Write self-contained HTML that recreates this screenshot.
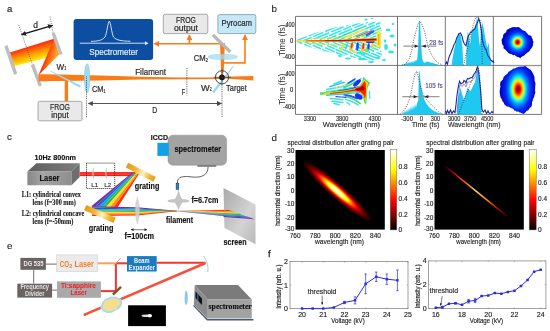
<!DOCTYPE html><html><head><meta charset="utf-8"><style>html,body{margin:0;padding:0;background:#fff;overflow:hidden}svg{display:block;filter:blur(0.3px)}</style></head><body><svg width="550" height="331" viewBox="0 0 550 331"><defs>
<linearGradient id="fan" gradientUnits="userSpaceOnUse" x1="31" y1="46" x2="35" y2="60">
<stop offset="0" stop-color="#ff2a10"/><stop offset="0.45" stop-color="#ff8a00"/><stop offset="1" stop-color="#ffe600"/></linearGradient>
<linearGradient id="tri" gradientUnits="userSpaceOnUse" x1="45" y1="57" x2="54" y2="60">
<stop offset="0" stop-color="#ff2a10"/><stop offset="0.5" stop-color="#ff6a10"/><stop offset="1" stop-color="#ffa020"/></linearGradient>
<marker id="ah" viewBox="0 0 10 10" refX="9" refY="5" markerWidth="4" markerHeight="4" orient="auto-start-reverse"><path d="M0,0 L10,5 L0,10 z" fill="#222"/></marker>
<marker id="ahg" viewBox="0 0 10 10" refX="9" refY="5" markerWidth="5" markerHeight="5" orient="auto-start-reverse"><path d="M0,0 L10,5 L0,10 z" fill="#444"/></marker>
<marker id="aho" viewBox="0 0 10 10" refX="8" refY="5" markerWidth="3.6" markerHeight="3.6" orient="auto-start-reverse"><path d="M0,0 L10,5 L0,10 z" fill="#fb7c15"/></marker>
</defs>
<text x="7" y="12" font-size="9.5" font-family='"Liberation Sans", sans-serif' font-weight="normal" fill="#2e2e2e" text-anchor="start" stroke="#2e2e2e" stroke-width="0.22">a</text>
<polygon points="9.80,52.50 54.00,38.80 59.00,54.50 13.80,66.30" fill="url(#fan)" />
<polygon points="54.00,38.80 59.00,54.50 38.30,75.50" fill="url(#tri)" />
<line x1="18.7" y1="25" x2="32.4" y2="64.3" stroke="#555" stroke-width="0.8" stroke-dasharray="1,1.2"/>
<line x1="50" y1="16.5" x2="53.1" y2="32.9" stroke="#555" stroke-width="0.8" stroke-dasharray="1,1.2"/>
<line x1="5.9" y1="45.6" x2="15.7" y2="74.2" stroke="#bdbdbd" stroke-width="3.4" />
<line x1="53.1" y1="32.9" x2="61" y2="54.5" stroke="#bdbdbd" stroke-width="3.4" />
<line x1="32.4" y1="64.3" x2="40.3" y2="86" stroke="#bdbdbd" stroke-width="3.4" />
<line x1="21.5" y1="34.6" x2="52.6" y2="25.3" stroke="#111" stroke-width="1.3" marker-start="url(#ah)" marker-end="url(#ah)"/>
<text x="35.5" y="27.5" font-size="8.5" font-family='"Liberation Sans", sans-serif' font-weight="normal" fill="#2e2e2e" text-anchor="middle" stroke="#2e2e2e" stroke-width="0.22">d</text>
<polygon points="38.50,74.20 60.00,74.60 100.00,75.60 140.00,76.70 180.00,77.40 222.00,77.60 222.00,78.90 180.00,79.20 140.00,79.60 100.00,80.40 60.00,81.10 38.50,81.30" fill="#fb7c15" />
<rect x="64.7" y="80" width="3.4" height="21.5" fill="#fb7c15"/>
<polygon points="50.00,70.50 50.00,71.30 80.00,87.80 81.00,85.60" fill="#9ad9f2" />
<text x="56.5" y="69.8" font-size="8.3" font-family='"Liberation Sans", sans-serif' font-weight="normal" fill="#2e2e2e" text-anchor="start" textLength="7.7" lengthAdjust="spacingAndGlyphs" stroke="#2e2e2e" stroke-width="0.22">W</text>
<text x="64.2" y="70.4" font-size="5" font-family='"Liberation Sans", sans-serif' font-weight="normal" fill="#2e2e2e" text-anchor="start" textLength="2" lengthAdjust="spacingAndGlyphs" stroke="#2e2e2e" stroke-width="0.22">1</text>
<ellipse cx="87.1" cy="78.2" rx="2.7" ry="14.5" fill="#a3dcf4" stroke="#7ccbee" stroke-width="0.6"/>
<line x1="86.5" y1="76.4" x2="86.5" y2="118" stroke="#333" stroke-width="0.8" stroke-dasharray="0.9,0.9"/>
<text x="92" y="92.2" font-size="8.3" font-family='"Liberation Sans", sans-serif' font-weight="normal" fill="#2e2e2e" text-anchor="start" textLength="11.5" lengthAdjust="spacingAndGlyphs" stroke="#2e2e2e" stroke-width="0.22">CM</text>
<text x="103.5" y="92.8" font-size="5" font-family='"Liberation Sans", sans-serif' font-weight="normal" fill="#2e2e2e" text-anchor="start" textLength="2" lengthAdjust="spacingAndGlyphs" stroke="#2e2e2e" stroke-width="0.22">1</text>
<rect x="38" y="101.3" width="44" height="19.5" rx="1.8" fill="#e9e9e9" stroke="#8a8a8a" stroke-width="0.7"/>
<text x="60" y="110.3" font-size="8.4" font-family='"Liberation Sans", sans-serif' font-weight="normal" fill="#2e2e2e" text-anchor="middle" textLength="19.8" lengthAdjust="spacingAndGlyphs" stroke="#2e2e2e" stroke-width="0.22">FROG</text>
<text x="60" y="117.9" font-size="8.4" font-family='"Liberation Sans", sans-serif' font-weight="normal" fill="#2e2e2e" text-anchor="middle" textLength="17.5" lengthAdjust="spacingAndGlyphs" stroke="#2e2e2e" stroke-width="0.22">input</text>
<line x1="88.3" y1="103.5" x2="221.5" y2="103.5" stroke="#555" stroke-width="1" marker-start="url(#ahg)" marker-end="url(#ahg)"/>
<text x="152.2" y="112.5" font-size="8.4" font-family='"Liberation Sans", sans-serif' font-weight="normal" fill="#2e2e2e" text-anchor="start" textLength="5" lengthAdjust="spacingAndGlyphs" stroke="#2e2e2e" stroke-width="0.22">D</text>
<text x="149.8" y="112.5" font-size="8" font-family='"Liberation Sans", sans-serif' font-weight="normal" fill="#222" text-anchor="start"  stroke="#222" stroke-width="0.15"></text>
<rect x="73.6" y="19" width="79.5" height="41" rx="3" fill="#0b4ea2"/>
<line x1="79.8" y1="43.2" x2="146.5" y2="43.2" stroke="#e8eef8" stroke-width="0.9" />
<path d="M145,41.2 L148.5,43.2 L145,45.2 z" fill="#e8eef8" stroke="none" stroke-width="1" />
<path d="M91,41.4 C98,41.2 102,40.5 105,37 C107,33 107.8,22 109.3,21.2 C110.8,22 111.5,33 113.5,37 C116.5,40.5 122,41 130.5,41.3" fill="none" stroke="#e8eef8" stroke-width="0.9" />
<text x="113.6" y="54.5" font-size="8.8" font-family='"Liberation Sans", sans-serif' font-weight="normal" fill="#e8eef8" text-anchor="middle" textLength="48.5" lengthAdjust="spacingAndGlyphs" stroke="#e8eef8" stroke-width="0.2">Spectrometer</text>
<rect x="163.3" y="14.3" width="44.5" height="19.3" rx="1.8" fill="#e9e9e9" stroke="#8a8a8a" stroke-width="0.7"/>
<text x="176" y="23" font-size="8.4" font-family='"Liberation Sans", sans-serif' font-weight="normal" fill="#2e2e2e" text-anchor="start" textLength="19.8" lengthAdjust="spacingAndGlyphs" stroke="#2e2e2e" stroke-width="0.22">FROG</text>
<text x="174" y="30.6" font-size="8.4" font-family='"Liberation Sans", sans-serif' font-weight="normal" fill="#2e2e2e" text-anchor="start" textLength="24" lengthAdjust="spacingAndGlyphs" stroke="#2e2e2e" stroke-width="0.22">output</text>
<rect x="217.9" y="14.6" width="37.9" height="19" rx="1.8" fill="#c5e8f8" stroke="#6f8f9f" stroke-width="0.7"/>
<text x="221.5" y="25.7" font-size="8.2" font-family='"Liberation Sans", sans-serif' font-weight="normal" fill="#2e2e2e" text-anchor="start" textLength="30.5" lengthAdjust="spacingAndGlyphs" stroke="#2e2e2e" stroke-width="0.22">Pyrocam</text>
<line x1="220.5" y1="43.8" x2="154.5" y2="43.8" stroke="#fb7c15" stroke-width="1.6" marker-end="url(#aho)"/>
<line x1="189.4" y1="43.8" x2="189.4" y2="35.3" stroke="#fb7c15" stroke-width="1.6" marker-end="url(#aho)"/>
<line x1="222" y1="62.9" x2="245" y2="62.9" stroke="#fb7c15" stroke-width="1.6" />
<line x1="245" y1="63.7" x2="245" y2="35.3" stroke="#fb7c15" stroke-width="1.6" marker-end="url(#aho)"/>
<polygon points="220.00,43.00 224.90,43.00 223.80,70.00 222.60,77.30 221.60,77.30 221.10,70.00" fill="#fb7c15" />
<line x1="212.8" y1="34.8" x2="230.4" y2="52" stroke="#b8b8b8" stroke-width="3.2" />
<ellipse cx="222.7" cy="56.9" rx="14.7" ry="2.7" fill="#a3dcf4" stroke="#7ccbee" stroke-width="0.6" opacity="0.75"/>
<text x="193.8" y="61.3" font-size="8.3" font-family='"Liberation Sans", sans-serif' font-weight="normal" fill="#2e2e2e" text-anchor="start" textLength="12" lengthAdjust="spacingAndGlyphs" stroke="#2e2e2e" stroke-width="0.22">CM</text>
<text x="205.8" y="61.8" font-size="5" font-family='"Liberation Sans", sans-serif' font-weight="normal" fill="#2e2e2e" text-anchor="start" textLength="2.2" lengthAdjust="spacingAndGlyphs" stroke="#2e2e2e" stroke-width="0.22">2</text>
<polygon points="222.00,76.80 253.40,76.00 253.40,80.50 222.00,78.20" fill="#fb7c15" />
<polygon points="212.00,91.80 214.20,93.20 234.00,66.20 233.40,65.60" fill="#9ad9f2" />
<circle cx="222" cy="77.3" r="6.6" fill="none" stroke="#333" stroke-width="0.9"/>
<circle cx="222" cy="77.3" r="2.9" fill="#111"/>
<line x1="213.5" y1="77.3" x2="231" y2="77.3" stroke="#333" stroke-width="0.7" />
<line x1="222" y1="69.1" x2="222" y2="85.5" stroke="#333" stroke-width="0.7" />
<line x1="222" y1="85.5" x2="222" y2="117.5" stroke="#333" stroke-width="0.8" stroke-dasharray="0.9,0.9"/>
<text x="201" y="90.6" font-size="8.3" font-family='"Liberation Sans", sans-serif' font-weight="normal" fill="#2e2e2e" text-anchor="start" textLength="8.7" lengthAdjust="spacingAndGlyphs" stroke="#2e2e2e" stroke-width="0.22">W</text>
<text x="209.7" y="91" font-size="5" font-family='"Liberation Sans", sans-serif' font-weight="normal" fill="#2e2e2e" text-anchor="start" textLength="2" lengthAdjust="spacingAndGlyphs" stroke="#2e2e2e" stroke-width="0.22">2</text>
<text x="226.1" y="90.6" font-size="8.3" font-family='"Liberation Sans", sans-serif' font-weight="normal" fill="#2e2e2e" text-anchor="start" textLength="20.7" lengthAdjust="spacingAndGlyphs" stroke="#2e2e2e" stroke-width="0.22">Target</text>
<line x1="186.9" y1="68" x2="186.9" y2="95.3" stroke="#333" stroke-width="0.8" stroke-dasharray="0.9,0.9"/>
<text x="181.8" y="94.7" font-size="8.3" font-family='"Liberation Sans", sans-serif' font-weight="normal" fill="#2e2e2e" text-anchor="start" textLength="3.5" lengthAdjust="spacingAndGlyphs" stroke="#2e2e2e" stroke-width="0.22">F</text>
<text x="135.2" y="74.5" font-size="8.2" font-family='"Liberation Sans", sans-serif' font-weight="normal" fill="#2e2e2e" text-anchor="start" textLength="30.8" lengthAdjust="spacingAndGlyphs" stroke="#2e2e2e" stroke-width="0.22">Filament</text>
<text x="271.6" y="11.5" font-size="9.8" font-family='"Liberation Sans", sans-serif' font-weight="normal" fill="#222" text-anchor="start"  stroke="#222" stroke-width="0.1">b</text>
<line x1="295.5" y1="16.4" x2="541.6" y2="16.4" stroke="#555" stroke-width="0.8" />
<line x1="295.5" y1="65.4" x2="541.6" y2="65.4" stroke="#555" stroke-width="0.8" />
<line x1="295.5" y1="114.4" x2="541.6" y2="114.4" stroke="#555" stroke-width="0.8" />
<line x1="295.5" y1="16.4" x2="295.5" y2="114.4" stroke="#555" stroke-width="0.8" />
<line x1="397.5" y1="16.4" x2="397.5" y2="114.4" stroke="#555" stroke-width="0.8" />
<line x1="445.3" y1="16.4" x2="445.3" y2="114.4" stroke="#555" stroke-width="0.8" />
<line x1="493.3" y1="16.4" x2="493.3" y2="114.4" stroke="#555" stroke-width="0.8" />
<line x1="541.6" y1="16.4" x2="541.6" y2="114.4" stroke="#555" stroke-width="0.8" />
<text x="294.7" y="27.3" font-size="6.3" font-family='"Liberation Sans", sans-serif' font-weight="normal" fill="#2a2a2a" text-anchor="end" textLength="9.3" lengthAdjust="spacingAndGlyphs"  stroke="#2a2a2a" stroke-width="0.15">400</text>
<text x="293.3" y="43.3" font-size="6.3" font-family='"Liberation Sans", sans-serif' font-weight="normal" fill="#2a2a2a" text-anchor="end" textLength="3.3" lengthAdjust="spacingAndGlyphs"  stroke="#2a2a2a" stroke-width="0.15">0</text>
<text x="294.7" y="59.3" font-size="6.3" font-family='"Liberation Sans", sans-serif' font-weight="normal" fill="#2a2a2a" text-anchor="end" textLength="11.9" lengthAdjust="spacingAndGlyphs"  stroke="#2a2a2a" stroke-width="0.15">-400</text>
<text x="294.7" y="76.1" font-size="6.3" font-family='"Liberation Sans", sans-serif' font-weight="normal" fill="#2a2a2a" text-anchor="end" textLength="9.3" lengthAdjust="spacingAndGlyphs"  stroke="#2a2a2a" stroke-width="0.15">400</text>
<text x="293.3" y="92.3" font-size="6.3" font-family='"Liberation Sans", sans-serif' font-weight="normal" fill="#2a2a2a" text-anchor="end" textLength="3.3" lengthAdjust="spacingAndGlyphs"  stroke="#2a2a2a" stroke-width="0.15">0</text>
<text x="294.7" y="108.5" font-size="6.3" font-family='"Liberation Sans", sans-serif' font-weight="normal" fill="#2a2a2a" text-anchor="end" textLength="11.9" lengthAdjust="spacingAndGlyphs"  stroke="#2a2a2a" stroke-width="0.15">-400</text>
<text x="310" y="120.9" font-size="6.6" font-family='"Liberation Sans", sans-serif' font-weight="normal" fill="#2a2a2a" text-anchor="middle" textLength="12.4" lengthAdjust="spacingAndGlyphs"  stroke="#2a2a2a" stroke-width="0.15">3300</text>
<text x="342.2" y="120.9" font-size="6.6" font-family='"Liberation Sans", sans-serif' font-weight="normal" fill="#2a2a2a" text-anchor="middle" textLength="12.4" lengthAdjust="spacingAndGlyphs"  stroke="#2a2a2a" stroke-width="0.15">3800</text>
<text x="374.7" y="120.9" font-size="6.6" font-family='"Liberation Sans", sans-serif' font-weight="normal" fill="#2a2a2a" text-anchor="middle" textLength="12.4" lengthAdjust="spacingAndGlyphs"  stroke="#2a2a2a" stroke-width="0.15">4300</text>
<text x="407" y="120.9" font-size="6.6" font-family='"Liberation Sans", sans-serif' font-weight="normal" fill="#2a2a2a" text-anchor="middle" textLength="11.9" lengthAdjust="spacingAndGlyphs"  stroke="#2a2a2a" stroke-width="0.15">-300</text>
<text x="421.3" y="120.9" font-size="6.6" font-family='"Liberation Sans", sans-serif' font-weight="normal" fill="#2a2a2a" text-anchor="middle" textLength="3.3" lengthAdjust="spacingAndGlyphs"  stroke="#2a2a2a" stroke-width="0.15">0</text>
<text x="435.5" y="120.9" font-size="6.6" font-family='"Liberation Sans", sans-serif' font-weight="normal" fill="#2a2a2a" text-anchor="middle" textLength="9.3" lengthAdjust="spacingAndGlyphs"  stroke="#2a2a2a" stroke-width="0.15">300</text>
<text x="454.2" y="120.9" font-size="6.6" font-family='"Liberation Sans", sans-serif' font-weight="normal" fill="#2a2a2a" text-anchor="middle" textLength="12.4" lengthAdjust="spacingAndGlyphs"  stroke="#2a2a2a" stroke-width="0.15">3000</text>
<text x="470.1" y="120.9" font-size="6.6" font-family='"Liberation Sans", sans-serif' font-weight="normal" fill="#2a2a2a" text-anchor="middle" textLength="12.4" lengthAdjust="spacingAndGlyphs"  stroke="#2a2a2a" stroke-width="0.15">3750</text>
<text x="487.2" y="120.9" font-size="6.6" font-family='"Liberation Sans", sans-serif' font-weight="normal" fill="#2a2a2a" text-anchor="middle" textLength="12.4" lengthAdjust="spacingAndGlyphs"  stroke="#2a2a2a" stroke-width="0.15">4500</text>
<text x="351.5" y="127.2" font-size="7.8" font-family='"Liberation Sans", sans-serif' font-weight="normal" fill="#2a2a2a" text-anchor="middle" textLength="57.3" lengthAdjust="spacingAndGlyphs"  stroke="#2a2a2a" stroke-width="0.15">Wavelength (nm)</text>
<text x="425.6" y="127.2" font-size="7.8" font-family='"Liberation Sans", sans-serif' font-weight="normal" fill="#2a2a2a" text-anchor="middle" textLength="27.7" lengthAdjust="spacingAndGlyphs"  stroke="#2a2a2a" stroke-width="0.15">Time (fs)</text>
<text x="474.2" y="127.2" font-size="7.8" font-family='"Liberation Sans", sans-serif' font-weight="normal" fill="#2a2a2a" text-anchor="middle" textLength="52.5" lengthAdjust="spacingAndGlyphs"  stroke="#2a2a2a" stroke-width="0.15">Wavelength (nm)</text>
<text transform="translate(284.6,40.2) rotate(-90)" font-size="8.5" font-family='"Liberation Sans", sans-serif' fill="#2a2a2a" text-anchor="middle" textLength="31" lengthAdjust="spacingAndGlyphs">Time (fs)</text>
<text transform="translate(284.6,89.2) rotate(-90)" font-size="8.5" font-family='"Liberation Sans", sans-serif' fill="#2a2a2a" text-anchor="middle" textLength="31" lengthAdjust="spacingAndGlyphs">Time (fs)</text>
<clipPath id="cb1"><rect x="296" y="17" width="101" height="48"/></clipPath>
<clipPath id="cb2"><rect x="296" y="66" width="101" height="48"/></clipPath>
<clipPath id="fanU"><polygon points="297,39.5 315,33 335,27.5 360,23 380,21 382,30 380,39.4 297,40.4"/></clipPath>
<clipPath id="fanD"><polygon points="297,41.4 297,43.5 320,50 345,56 372,61 382,56 380,41 "/></clipPath>
<g clip-path="url(#cb1)">
<g clip-path="url(#fanU)">
<line x1="262" y1="41" x2="307" y2="22" stroke="#2fe6e6" stroke-width="1.5" stroke-dasharray="15.4,1.8,15.2,1.7" stroke-dashoffset="7.6"/>
<line x1="268.8" y1="41" x2="313.8" y2="22" stroke="#2fe6e6" stroke-width="1.5" stroke-dasharray="17.0,1.3,11.1,1.9" stroke-dashoffset="11.9"/>
<line x1="275.6" y1="41" x2="320.6" y2="22" stroke="#2fe6e6" stroke-width="1.5" stroke-dasharray="11.1,1.5,6.9,2.2" stroke-dashoffset="10.4"/>
<line x1="282.40000000000003" y1="41" x2="327.40000000000003" y2="22" stroke="#2fe6e6" stroke-width="1.5" stroke-dasharray="10.5,2.5,15.6,2.0" stroke-dashoffset="9.2"/>
<line x1="289.20000000000005" y1="41" x2="334.20000000000005" y2="22" stroke="#2fe6e6" stroke-width="1.5" stroke-dasharray="11.9,1.0,11.3,1.1" stroke-dashoffset="2.9"/>
<line x1="296.00000000000006" y1="41" x2="341.00000000000006" y2="22" stroke="#2fe6e6" stroke-width="1.5" stroke-dasharray="12.9,1.0,10.6,1.7" stroke-dashoffset="12.6"/>
<line x1="302.80000000000007" y1="41" x2="347.80000000000007" y2="22" stroke="#2fe6e6" stroke-width="1.5" stroke-dasharray="16.2,2.0,11.0,2.0" stroke-dashoffset="6.9"/>
<line x1="309.6000000000001" y1="41" x2="354.6000000000001" y2="22" stroke="#2fe6e6" stroke-width="1.5" stroke-dasharray="13.3,2.5,16.0,2.3" stroke-dashoffset="10.6"/>
<line x1="316.4000000000001" y1="41" x2="361.4000000000001" y2="22" stroke="#2fe6e6" stroke-width="1.5" stroke-dasharray="13.8,1.3,8.9,1.1" stroke-dashoffset="11.5"/>
<line x1="323.2000000000001" y1="41" x2="368.2000000000001" y2="22" stroke="#2fe6e6" stroke-width="1.5" stroke-dasharray="14.8,2.3,9.9,2.4" stroke-dashoffset="12.7"/>
<line x1="330.0000000000001" y1="41" x2="375.0000000000001" y2="22" stroke="#2fe6e6" stroke-width="1.5" stroke-dasharray="10.0,1.3,15.1,1.7" stroke-dashoffset="14.7"/>
<line x1="336.8000000000001" y1="41" x2="381.8000000000001" y2="22" stroke="#2fe6e6" stroke-width="1.5" stroke-dasharray="14.8,1.1,12.3,2.2" stroke-dashoffset="4.0"/>
<line x1="343.60000000000014" y1="41" x2="388.60000000000014" y2="22" stroke="#2fe6e6" stroke-width="1.5" stroke-dasharray="11.0,1.5,15.6,2.1" stroke-dashoffset="1.8"/>
<line x1="350.40000000000015" y1="41" x2="395.40000000000015" y2="22" stroke="#2fe6e6" stroke-width="1.5" stroke-dasharray="13.0,1.2,6.6,2.2" stroke-dashoffset="2.7"/>
<line x1="357.20000000000016" y1="41" x2="402.20000000000016" y2="22" stroke="#2fe6e6" stroke-width="1.5" stroke-dasharray="16.7,1.7,7.9,2.1" stroke-dashoffset="2.0"/>
<line x1="364.00000000000017" y1="41" x2="409.00000000000017" y2="22" stroke="#2fe6e6" stroke-width="1.5" stroke-dasharray="17.7,1.2,10.2,1.3" stroke-dashoffset="4.0"/>
<line x1="370.8000000000002" y1="41" x2="415.8000000000002" y2="22" stroke="#2fe6e6" stroke-width="1.5" stroke-dasharray="21.7,2.2,9.0,2.3" stroke-dashoffset="3.2"/>
<line x1="377.6000000000002" y1="41" x2="422.6000000000002" y2="22" stroke="#2fe6e6" stroke-width="1.5" stroke-dasharray="14.7,2.3,12.4,1.2" stroke-dashoffset="14.8"/>
<line x1="384.4000000000002" y1="41" x2="429.4000000000002" y2="22" stroke="#2fe6e6" stroke-width="1.5" stroke-dasharray="12.6,1.4,13.7,1.5" stroke-dashoffset="4.4"/>
</g>
<g clip-path="url(#fanD)">
<line x1="262" y1="40.8" x2="310" y2="62" stroke="#2fe6e6" stroke-width="1.5" stroke-dasharray="10.9,1.1,11.8,1.4" stroke-dashoffset="9.0"/>
<line x1="268.8" y1="40.8" x2="316.8" y2="62" stroke="#2fe6e6" stroke-width="1.5" stroke-dasharray="14.5,1.7,15.6,1.7" stroke-dashoffset="8.6"/>
<line x1="275.6" y1="40.8" x2="323.6" y2="62" stroke="#2fe6e6" stroke-width="1.5" stroke-dasharray="20.4,1.3,7.5,2.4" stroke-dashoffset="12.3"/>
<line x1="282.40000000000003" y1="40.8" x2="330.40000000000003" y2="62" stroke="#2fe6e6" stroke-width="1.5" stroke-dasharray="13.0,1.3,13.4,2.4" stroke-dashoffset="2.9"/>
<line x1="289.20000000000005" y1="40.8" x2="337.20000000000005" y2="62" stroke="#2fe6e6" stroke-width="1.5" stroke-dasharray="21.4,2.3,12.0,1.6" stroke-dashoffset="1.6"/>
<line x1="296.00000000000006" y1="40.8" x2="344.00000000000006" y2="62" stroke="#2fe6e6" stroke-width="1.5" stroke-dasharray="10.5,2.4,8.4,2.1" stroke-dashoffset="3.9"/>
<line x1="302.80000000000007" y1="40.8" x2="350.80000000000007" y2="62" stroke="#2fe6e6" stroke-width="1.5" stroke-dasharray="19.9,1.9,8.9,1.3" stroke-dashoffset="10.8"/>
<line x1="309.6000000000001" y1="40.8" x2="357.6000000000001" y2="62" stroke="#2fe6e6" stroke-width="1.5" stroke-dasharray="10.8,1.3,11.6,2.3" stroke-dashoffset="9.2"/>
<line x1="316.4000000000001" y1="40.8" x2="364.4000000000001" y2="62" stroke="#2fe6e6" stroke-width="1.5" stroke-dasharray="13.4,2.4,8.0,1.0" stroke-dashoffset="4.0"/>
<line x1="323.2000000000001" y1="40.8" x2="371.2000000000001" y2="62" stroke="#2fe6e6" stroke-width="1.5" stroke-dasharray="15.3,1.1,7.8,1.6" stroke-dashoffset="8.6"/>
<line x1="330.0000000000001" y1="40.8" x2="378.0000000000001" y2="62" stroke="#2fe6e6" stroke-width="1.5" stroke-dasharray="11.6,1.5,14.9,2.5" stroke-dashoffset="9.9"/>
<line x1="336.8000000000001" y1="40.8" x2="384.8000000000001" y2="62" stroke="#2fe6e6" stroke-width="1.5" stroke-dasharray="18.3,1.9,7.4,1.1" stroke-dashoffset="0.3"/>
<line x1="343.60000000000014" y1="40.8" x2="391.60000000000014" y2="62" stroke="#2fe6e6" stroke-width="1.5" stroke-dasharray="20.9,2.1,15.6,1.0" stroke-dashoffset="9.5"/>
<line x1="350.40000000000015" y1="40.8" x2="398.40000000000015" y2="62" stroke="#2fe6e6" stroke-width="1.5" stroke-dasharray="15.8,2.1,9.2,2.5" stroke-dashoffset="1.1"/>
<line x1="357.20000000000016" y1="40.8" x2="405.20000000000016" y2="62" stroke="#2fe6e6" stroke-width="1.5" stroke-dasharray="16.6,2.1,15.0,2.1" stroke-dashoffset="10.6"/>
<line x1="364.00000000000017" y1="40.8" x2="412.00000000000017" y2="62" stroke="#2fe6e6" stroke-width="1.5" stroke-dasharray="19.5,2.4,9.5,2.0" stroke-dashoffset="13.5"/>
<line x1="370.8000000000002" y1="40.8" x2="418.8000000000002" y2="62" stroke="#2fe6e6" stroke-width="1.5" stroke-dasharray="20.5,1.6,13.9,2.3" stroke-dashoffset="8.6"/>
<line x1="377.6000000000002" y1="40.8" x2="425.6000000000002" y2="62" stroke="#2fe6e6" stroke-width="1.5" stroke-dasharray="17.5,1.6,11.8,1.9" stroke-dashoffset="1.2"/>
<line x1="384.4000000000002" y1="40.8" x2="432.4000000000002" y2="62" stroke="#2fe6e6" stroke-width="1.5" stroke-dasharray="17.7,2.5,14.8,2.1" stroke-dashoffset="5.8"/>
</g>
<line x1="310" y1="38.8" x2="372" y2="35.8" stroke="#e0e040" stroke-width="0.8" />
<line x1="305" y1="43" x2="345" y2="45.5" stroke="#e0e040" stroke-width="0.8" />
<line x1="345" y1="37.5" x2="366" y2="29" stroke="#ffe030" stroke-width="1.4" />
<line x1="356" y1="37" x2="372" y2="30.5" stroke="#ff5a20" stroke-width="1.3" />
<line x1="338" y1="37.8" x2="360" y2="28.5" stroke="#30e0a0" stroke-width="1.2" />
<line x1="366" y1="35.5" x2="374" y2="31" stroke="#2060ff" stroke-width="2.2" />
<ellipse cx="351.5" cy="47" rx="1.6" ry="5" fill="#ffd020" transform="rotate(10 351.5 47)"/>
<ellipse cx="351.8" cy="45.5" rx="0.9" ry="3.2" fill="#ff3020" transform="rotate(10 351.8 45.5)"/>
<ellipse cx="357.5" cy="46.5" rx="1.3" ry="4.2" fill="#2040ff" transform="rotate(5 357.5 46.5)"/>
<ellipse cx="363" cy="47.5" rx="1.7" ry="5" fill="#ffd020" transform="rotate(8 363 47.5)"/>
<ellipse cx="363.3" cy="46" rx="1" ry="3.4" fill="#ff2a20" transform="rotate(8 363.3 46)"/>
<ellipse cx="368.5" cy="47" rx="1.2" ry="3.8" fill="#2040ff" transform="rotate(5 368.5 47)"/>
<ellipse cx="372.5" cy="46" rx="1.3" ry="3.6" fill="#ffd020" transform="rotate(5 372.5 46)"/>
<ellipse cx="342" cy="47.5" rx="1.2" ry="4" fill="#e8e830" transform="rotate(20 342 47.5)"/>
<ellipse cx="346.5" cy="46.5" rx="1" ry="3.2" fill="#40d8c0" transform="rotate(20 346.5 46.5)"/>
<ellipse cx="361" cy="53.3" rx="5" ry="1.3" fill="#2fe6e6" transform="rotate(10 361 53.3)"/>
<ellipse cx="366.5" cy="50.3" rx="2.6" ry="1.8" fill="#60f060" transform="rotate(0 366.5 50.3)"/>
<ellipse cx="366.5" cy="50.3" rx="1.3" ry="0.9" fill="#ffb020" transform="rotate(0 366.5 50.3)"/>
<ellipse cx="370" cy="41.8" rx="4.5" ry="1.3" fill="#1030ff" transform="rotate(0 370 41.8)"/>
<ellipse cx="355" cy="52" rx="2" ry="1.2" fill="#ffe040" transform="rotate(0 355 52)"/>
<polygon points="296.00,40.40 340.00,39.50 380.00,37.80 380.00,41.20 340.00,42.00 296.00,41.60" fill="#ffd000" />
<polygon points="306.00,40.60 340.00,39.90 380.00,38.30 380.00,40.60 340.00,41.50 306.00,41.30" fill="#ff2a00" />
<polygon points="325.00,40.60 380.00,38.90 380.00,39.90 325.00,41.10" fill="#9a0000" />
<polygon points="376.80,30.30 380.50,30.30 381.20,47.50 376.30,47.50" fill="#f4ee30" />
<line x1="378.7" y1="34" x2="378.7" y2="45" stroke="#ff8a20" stroke-width="1" />
<ellipse cx="388" cy="30" rx="2.5" ry="1.3" fill="#2fe6e6"/>
<ellipse cx="392" cy="36" rx="2.6" ry="1.6" fill="#2fe6e6"/>
<ellipse cx="386" cy="47" rx="1.8" ry="3" fill="#2fe6e6"/>
<ellipse cx="391" cy="52" rx="3" ry="1.4" fill="#2fe6e6"/>
<ellipse cx="385" cy="41" rx="1.2" ry="1.8" fill="#2fe6e6"/>
<ellipse cx="362" cy="59" rx="4" ry="1.2" fill="#2fe6e6"/>
<ellipse cx="371" cy="62" rx="3" ry="1" fill="#2fe6e6"/>
<ellipse cx="384" cy="60" rx="2" ry="1" fill="#2fe6e6"/>
<ellipse cx="348" cy="58.5" rx="3" ry="1" fill="#2fe6e6"/>
<ellipse cx="340" cy="56" rx="2" ry="1" fill="#2fe6e6"/>
<ellipse cx="366" cy="19.5" rx="1.5" ry="1" fill="#2fe6e6"/>
<ellipse cx="372" cy="18.5" rx="1.2" ry="0.8" fill="#2fe6e6"/>
<ellipse cx="393" cy="24" rx="1.5" ry="1" fill="#2fe6e6"/>
<ellipse cx="395" cy="45" rx="1.5" ry="1.5" fill="#2fe6e6"/>
<ellipse cx="378" cy="58" rx="2" ry="1.2" fill="#2fe6e6"/>
</g>
<g clip-path="url(#cb2)">
<path d="M326.7,89.6 Q336,87.4 345.6,85.9" fill="none" stroke="#2fe6e6" stroke-width="1.5" fill="none" stroke-linecap="round"/>
<path d="M329.9,86.6 Q337,84.3 344,82.4" fill="none" stroke="#30b0ff" stroke-width="1.5" fill="none" stroke-linecap="round"/>
<path d="M333.8,84 Q338,82.5 341.6,81" fill="none" stroke="#2fe6e6" stroke-width="1.4" fill="none" stroke-linecap="round"/>
<path d="M335,88 Q341,86.3 347,84.6" fill="none" stroke="#e8e040" stroke-width="1.0" fill="none" stroke-linecap="round"/>
<path d="M338,90.8 Q346,89.2 352,88" fill="none" stroke="#2a50ff" stroke-width="1.6" fill="none" stroke-linecap="round"/>
<path d="M344,87.7 Q351,85 357.4,80.6" fill="none" stroke="#40e060" stroke-width="1.6" fill="none" stroke-linecap="round"/>
<path d="M346,85 Q351,82.5 354.5,80.2" fill="none" stroke="#2fe6e6" stroke-width="1.4" fill="none" stroke-linecap="round"/>
<path d="M348,83.2 Q352,80.8 355,78.8" fill="none" stroke="#2a50ff" stroke-width="1.4" fill="none" stroke-linecap="round"/>
<path d="M358,82 Q359.5,80.5 361,78.5" fill="none" stroke="#2fe6e6" stroke-width="1.3" fill="none" stroke-linecap="round"/>
<path d="M330.2,98.5 Q337,99 342.9,99.8" fill="none" stroke="#50e0a0" stroke-width="1.5" fill="none" stroke-linecap="round"/>
<path d="M332,101.2 Q337,101.8 342.9,102.5" fill="none" stroke="#2fe6e6" stroke-width="1.5" fill="none" stroke-linecap="round"/>
<path d="M333.8,103.5 Q336.5,104 339.3,104.8" fill="none" stroke="#2fe6e6" stroke-width="1.4" fill="none" stroke-linecap="round"/>
<path d="M336,96.6 Q342,96.9 346,97.5" fill="none" stroke="#2a50ff" stroke-width="1.4" fill="none" stroke-linecap="round"/>
<path d="M345.6,96.2 Q354,98.5 360.2,103.5" fill="none" stroke="#40e060" stroke-width="1.6" fill="none" stroke-linecap="round"/>
<path d="M345.6,99.4 Q353,101.5 358.4,104.8" fill="none" stroke="#2fe6e6" stroke-width="1.5" fill="none" stroke-linecap="round"/>
<path d="M347,102.5 Q348.5,103.5 349.5,104.5" fill="none" stroke="#2fe6e6" stroke-width="1.2" fill="none" stroke-linecap="round"/>
<path d="M344,94.6 Q352,95.8 357,98.5" fill="none" stroke="#2a50ff" stroke-width="1.8" fill="none" stroke-linecap="round"/>
<path d="M330,92.6 Q346,90.6 361,86.2" fill="none" stroke="#2a50ff" stroke-width="1.7" fill="none"/>
<path d="M326,91.6 Q343,89.4 352,87.6" fill="none" stroke="#2fe6e6" stroke-width="1.0" fill="none"/>
<path d="M326,95.2 Q346,93.8 360,92.6" fill="none" stroke="#30c8e0" stroke-width="1.4" fill="none"/>
<ellipse cx="358.8" cy="96.4" rx="4.2" ry="2.6" fill="#1a30ff" transform="rotate(30 358.8 96.4)"/>
<ellipse cx="357" cy="83" rx="4.8" ry="2" fill="#1a30ff" transform="rotate(-42 357 83)"/>
<polygon points="320.00,92.40 345.00,90.20 361.00,87.00 361.00,91.00 345.00,93.40 320.00,94.80" fill="#40e050" />
<polygon points="324.00,92.80 345.00,90.70 361.00,87.60 361.00,90.40 345.00,92.80 324.00,94.30" fill="#ffd800" />
<polygon points="330.00,93.00 345.00,91.20 361.00,88.10 361.00,89.90 345.00,92.30 330.00,93.90" fill="#ff2200" />
<polygon points="355.40,87.92 359.70,85.58 362.28,81.80 363.66,76.76 366.15,79.82 370.02,82.79 367.44,88.10 367.10,95.30 366.06,104.48 364.26,102.50 362.71,96.20 359.70,92.78 355.40,91.52" fill="#40e050" />
<polygon points="355.40,88.19 360.13,85.94 362.80,82.52 364.00,78.92 365.89,81.35 368.13,83.24 366.58,88.10 366.49,95.30 365.55,102.05 363.31,95.75 360.13,92.33 355.40,91.25" fill="#ffd800" />
<polygon points="355.40,88.46 360.56,86.30 363.14,83.24 364.26,80.90 365.72,82.70 366.06,88.10 365.81,94.40 365.12,99.35 363.66,95.12 360.56,91.88 355.40,90.98" fill="#ff2200" />
<polygon points="355.40,89.09 360.13,87.74 362.97,85.67 364.52,87.65 364.17,90.62 360.13,90.44 355.40,90.26" fill="#a80000" />
<line x1="369.4" y1="91" x2="369.8" y2="99" stroke="#2fe6e6" stroke-width="1.2" />
</g>
<path d="M398,65.4 L403,65.4 L404,63.5 L405,64.5 L406,62.5 L407,64 L408,62 L409,63.5 L410,61.5 L411,63.5 L412,61 L413,63 L414,60.5 L415,62 L416,59.5 L417,61 L418,50 L419,22 L420,21.3 L421,40 L422,58 L423,61 L424,63 L426,62 L428,61.5 L430,62.5 L432,62.8 L434,63.5 L437,64.3 L440,65.4 Z" fill="#1ec8f0" stroke="none" stroke-width="1" />
<path d="M402,65.2 L404.9,64.3 L407.5,61.5 L409.6,58 L411.9,50.2 L413.5,40.7 L415.9,31.3 L418,24 L419.8,21.1 L421.8,24 L424.5,31.3 L426,38 L427.7,45.4 L429.5,50.5 L431.6,54.9 L434.5,59.5 L437.9,62.7 L442.6,65.1" fill="none" stroke="#333" stroke-width="0.9" stroke-dasharray="0.9,1.5"/>
<line x1="403.3" y1="46.2" x2="436.3" y2="46.2" stroke="#9a9a9a" stroke-width="1.3" />
<path d="M414.6,44.6 L418.4,46.2 L414.6,47.8 z" fill="#222" stroke="none" stroke-width="1" />
<path d="M425.8,44.6 L422,46.2 L425.8,47.8 z" fill="#222" stroke="none" stroke-width="1" />
<text x="429.2" y="44.7" font-size="7.6" font-family='"Liberation Sans", sans-serif' font-weight="normal" fill="#54489e" text-anchor="start" textLength="14.2" lengthAdjust="spacingAndGlyphs"  stroke="#54489e" stroke-width="0.15">28 fs</text>
<path d="M398,114.4 L402,114.4 L403,112 L404,113.5 L405,110.5 L406,113 L407,109 L408,112.5 L409,107.5 L410,111.5 L411,106 L412,110.5 L413,105 L414,109.5 L415,104 L416,108 L417,103.3 L418.2,101 L419,72 L419.5,70.3 L420.6,82.9 L421.8,90 L423,95.4 L424.5,100 L426.1,103.3 L428.5,106.5 L431.6,109.6 L434.5,111.3 L437.9,112.7 L441,113.7 L444,114.4 Z" fill="#1ec8f0" stroke="none" stroke-width="1" />
<path d="M400.1,114.3 L403,111.5 L405.6,108 L407.8,103.5 L409.6,98.6 L411,93.5 L411.9,89.2 L413.5,79.7 L415,74.5 L416.7,71.1 L418.5,77 L419.8,84.4 L421.5,89.5 L422.9,93.9 L425.5,98.5 L428.4,101.7 L431.5,105 L434.7,108 L438.5,111.5 L442.6,114.3" fill="none" stroke="#333" stroke-width="0.9" stroke-dasharray="0.9,1.5"/>
<line x1="402.3" y1="96.7" x2="439.5" y2="96.7" stroke="#9a9a9a" stroke-width="1.3" />
<path d="M413.6,95.1 L417.4,96.7 L413.6,98.3 z" fill="#222" stroke="none" stroke-width="1" />
<path d="M428.3,95.1 L424.5,96.7 L428.3,98.3 z" fill="#222" stroke="none" stroke-width="1" />
<text x="425.3" y="87.5" font-size="7.6" font-family='"Liberation Sans", sans-serif' font-weight="normal" fill="#54489e" text-anchor="start" textLength="17.3" lengthAdjust="spacingAndGlyphs"  stroke="#54489e" stroke-width="0.15">105 fs</text>
<path d="M446,65.4 L451.5,65.4 L452.3,60 L454,50 L456,42 L458,36 L459.5,33 L461,36 L462.5,48 L463.2,65.4 L466,65.4 L466.5,50 L467.7,31.3 L469,36 L470,45 L471.4,33 L473,29 L475,27.6 L476,24 L476.8,17.6 L477.8,24 L479,40 L480,46 L481,30 L482.3,22.2 L483.5,28 L485,36 L486.5,45 L487.7,47.6 L488.5,42 L489.5,52 L490.5,60 L491.5,65.4 Z" fill="#1ec8f0" stroke="none" stroke-width="1" />
<path d="M445.50,64.50 L446.50,62.00 L447.50,64.00 L448.50,59.03 L449.50,55.80 L450.33,54.36 L451.17,52.28 L452.00,50.00 L452.83,47.95 L453.67,45.26 L454.50,44.00 L455.65,41.56 L456.80,37.60 L457.65,36.60 L458.50,34.00 L459.50,33.53 L460.50,33.00 L462.00,36.00 L463.20,41.30 L464.50,44.00 L466.00,45.80 L466.85,41.71 L467.70,37.60 L468.60,35.36 L469.50,34.50 L470.45,32.06 L471.40,32.20 L472.30,30.76 L473.20,30.00 L474.10,29.47 L475.00,28.50 L475.90,25.13 L476.80,24.00 L477.70,22.01 L478.60,18.50 L479.55,21.00 L480.50,24.90 L481.40,31.51 L482.30,39.50 L483.60,45.00 L485.00,48.50 L486.00,49.56 L487.00,53.00 L487.83,55.83 L488.67,56.69 L489.50,57.60 L490.50,60.03 L491.50,60.50 L492.33,61.63 L493.17,60.96 L494.00,63.00" fill="none" stroke="#1a2aa8" stroke-width="1.1" />
<path d="M463.5,65.4 L466,55 L469,42 L472,30 L475.5,17.5 L478,17.3 L480.5,21.3 L481.3,35 L482,50 L482.3,65.4" fill="none" stroke="#333" stroke-width="0.9" stroke-dasharray="0.9,1.5"/>
<path d="M456.8,114.4 L458,100 L460.5,87.6 L462,94 L464,100 L465.5,95 L467.7,87.6 L469,90 L470.5,91.3 L472.5,87 L475,82.2 L476.5,74 L477.7,67.6 L479,78 L480.5,91.3 L481.4,114.4 Z" fill="#1ec8f0" stroke="none" stroke-width="1" />
<path d="M445.50,111.00 L446.50,113.50 L447.50,110.50 L449.00,113.50 L450.50,110.00 L452.00,113.50 L453.50,111.00 L455.00,112.50 L456.00,104.67 L457.00,95.00 L457.83,89.71 L458.67,84.91 L459.50,81.30 L461.00,84.00 L462.30,83.00 L463.15,82.70 L464.00,80.40 L464.95,81.07 L465.90,83.00 L466.80,79.99 L467.70,78.50 L468.60,78.80 L469.50,78.50 L470.45,77.74 L471.40,77.60 L472.20,77.58 L473.00,76.00 L474.00,73.96 L475.00,73.00 L475.90,71.82 L476.80,68.44 L477.70,66.70 L479.00,75.00 L480.50,89.50 L481.90,109.50 L482.70,110.95 L483.50,112.00 L485.00,110.00 L486.50,113.50 L488.00,111.00 L489.00,113.11 L490.00,113.50 L491.00,112.87 L492.00,111.50 L493.00,113.00" fill="none" stroke="#1a2aa8" stroke-width="1.1" />
<path d="M457,112 L459.8,84.5 L462.3,86.5 L464,84 L466,87 L467.7,82 L471.4,81.5 L475,77 L477.7,69" fill="none" stroke="#6a5ad0" stroke-width="0.7" />
<path d="M458.6,114.4 L462,105 L466,95 L470,85 L474,75 L477.7,66.7 L479.5,72 L481,95 L481.9,114.4" fill="none" stroke="#333" stroke-width="0.9" stroke-dasharray="0.9,1.5"/>
<defs>
<radialGradient id="bp1" gradientUnits="userSpaceOnUse" cx="517.6" cy="42.2" r="17" gradientTransform="translate(517.6 42.2) scale(1 1.0588235294117647) translate(-517.6 -42.2)"><stop offset="0" stop-color="#7a0000"/><stop offset="0.08" stop-color="#e00000"/><stop offset="0.14" stop-color="#ff6000"/><stop offset="0.2" stop-color="#ffe000"/><stop offset="0.26" stop-color="#a0ff60"/><stop offset="0.33" stop-color="#00e8ff"/><stop offset="0.43" stop-color="#0080ff"/><stop offset="0.58" stop-color="#0028f0"/><stop offset="0.8" stop-color="#0008d0"/><stop offset="1" stop-color="#0000a8"/></radialGradient>
<radialGradient id="bp2" gradientUnits="userSpaceOnUse" cx="518.2" cy="89.2" r="21" gradientTransform="translate(518.2 89.2) scale(1 1.6666666666666667) translate(-518.2 -89.2)"><stop offset="0" stop-color="#7a0000"/><stop offset="0.1" stop-color="#e00000"/><stop offset="0.16" stop-color="#ff6000"/><stop offset="0.23" stop-color="#ffe000"/><stop offset="0.29" stop-color="#a0ff60"/><stop offset="0.36" stop-color="#00e8ff"/><stop offset="0.46" stop-color="#0080ff"/><stop offset="0.6" stop-color="#0028f0"/><stop offset="0.8" stop-color="#0008d0"/><stop offset="1" stop-color="#0000a8"/></radialGradient>
</defs>
<polygon points="512.32,27.25 514.23,27.02 515.69,27.17 516.78,27.16 518.34,26.93 519.17,27.22 520.32,28.58 520.82,28.60 522.13,29.95 523.50,30.52 525.33,31.30 526.63,32.66 527.34,33.62 528.46,34.94 529.28,35.33 530.69,35.75 531.55,36.06 531.53,37.48 532.63,38.98 532.74,40.41 533.35,41.40 533.54,42.75 532.84,43.57 532.98,44.83 533.03,45.19 532.63,46.27 531.42,48.16 530.50,49.14 529.74,50.57 529.21,51.42 528.08,52.11 526.65,53.34 525.28,54.16 524.26,55.59 522.62,56.26 520.94,57.25 520.25,58.49 519.15,57.16 517.44,56.92 515.80,56.09 514.67,55.12 512.98,55.14 511.48,54.00 510.17,54.00 508.28,52.95 507.47,52.11 506.47,50.81 504.65,49.09 503.46,48.28 503.58,45.98 502.33,44.48 501.91,43.16 501.79,41.36 501.53,39.92 502.22,38.47 503.13,36.99 503.02,35.32 504.13,33.48 505.30,32.93 506.22,31.67 506.69,30.00 507.83,29.61 509.21,28.42 510.78,27.89" fill="url(#bp1)" />
<polygon points="513.36,68.57 514.69,68.54 516.21,67.65 518.75,66.71 520.05,66.72 521.04,66.43 523.20,66.45 524.73,66.11 525.74,66.01 527.26,67.72 528.59,68.47 529.63,69.35 530.60,69.79 532.10,71.88 532.77,72.89 533.54,74.66 534.48,76.91 534.60,80.51 535.48,83.20 535.18,87.17 535.02,90.62 535.41,92.39 534.60,94.47 534.08,97.32 533.20,98.51 532.58,100.91 532.02,102.33 532.00,105.05 531.42,106.40 530.51,107.22 529.33,108.42 528.23,110.33 526.55,111.06 526.28,111.27 525.12,112.74 525.02,112.50 523.91,113.95 522.01,113.24 520.39,112.62 519.60,112.47 518.27,111.59 516.70,111.76 515.78,110.75 514.45,110.69 513.47,109.12 512.10,108.53 510.13,107.51 508.54,106.72 506.59,106.13 505.45,105.21 504.23,104.13 503.86,102.77 502.61,101.45 501.86,99.28 500.58,97.46 499.98,94.52 499.66,92.17 499.87,89.22 500.44,86.56 500.05,84.53 500.57,81.75 502.96,79.43 503.56,76.91 505.33,75.26 507.31,73.87 508.60,71.87 510.36,70.69 511.44,69.93" fill="url(#bp2)" />
<line x1="506" y1="65.9" x2="540" y2="65.9" stroke="#aaa" stroke-width="0.7" />
<defs>
<linearGradient id="gold" x1="0" y1="0" x2="1" y2="0"><stop offset="0" stop-color="#e39c12"/><stop offset="0.3" stop-color="#f2b430"/><stop offset="0.58" stop-color="#fff0c8"/><stop offset="0.8" stop-color="#f2bb3a"/><stop offset="1" stop-color="#e39c12"/></linearGradient>
<linearGradient id="lasTop" x1="0" y1="0" x2="1" y2="0"><stop offset="0" stop-color="#5e5e5e"/><stop offset="1" stop-color="#7e7e7e"/></linearGradient>
<linearGradient id="lasFront" x1="0" y1="0" x2="1" y2="0"><stop offset="0" stop-color="#868686"/><stop offset="0.35" stop-color="#a6a6a6"/><stop offset="1" stop-color="#8e8e8e"/></linearGradient>
<linearGradient id="scr" x1="0" y1="0" x2="1" y2="1"><stop offset="0" stop-color="#a8a8a8"/><stop offset="0.6" stop-color="#d4d4d4"/><stop offset="1" stop-color="#b8b8b8"/></linearGradient>
<radialGradient id="lensg" cx="0.5" cy="0.5" r="0.5"><stop offset="0" stop-color="#d8d8d8"/><stop offset="1" stop-color="#bdbdbd"/></radialGradient>
</defs>
<text x="7.1" y="139.6" font-size="9.5" font-family='"Liberation Sans", sans-serif' font-weight="normal" fill="#222" text-anchor="start"  stroke="#222" stroke-width="0.15">c</text>
<text x="34.4" y="159.5" font-size="8" font-family='"Liberation Sans", sans-serif' font-weight="bold" fill="#111" text-anchor="start" textLength="41.6" lengthAdjust="spacingAndGlyphs"  stroke="#111" stroke-width="0.15">10Hz 800nm</text>
<polygon points="27.40,171.40 36.40,163.20 79.70,163.20 71.50,171.40" fill="url(#lasTop)" />
<polygon points="27.40,171.40 71.50,171.40 71.50,185.30 27.40,185.30" fill="url(#lasFront)" />
<polygon points="71.50,171.40 79.70,163.20 79.70,177.10 71.50,185.30" fill="#6e6e6e" />
<text x="49.5" y="181.2" font-size="9" font-family='"Liberation Sans", sans-serif' font-weight="bold" fill="#111" text-anchor="middle" textLength="20" lengthAdjust="spacingAndGlyphs"  stroke="#111" stroke-width="0.15">Laser</text>
<rect x="79.7" y="172.1" width="56" height="4" fill="#ff1a1a"/>
<line x1="79.7" y1="174.1" x2="135.6" y2="174.1" stroke="#ff7a50" stroke-width="0.7" />
<rect x="86.5" y="163.1" width="28.2" height="25.4" fill="none" stroke="#222" stroke-width="0.95" stroke-dasharray="1,1"/>
<path d="M94.6,166.4 Q89.6,173.3 94.6,180.3 Q92.4,173.3 94.6,166.4 z" fill="#bdbdbd" stroke="none" stroke-width="1" />
<path d="M107.4,166.4 Q103,173.3 107.4,180.3 Q105.4,173.3 107.4,166.4 z" fill="#c2c2c2" stroke="none" stroke-width="1" />
<text x="94.7" y="186.8" font-size="6.2" font-family='"Liberation Sans", sans-serif' font-weight="normal" fill="#333" text-anchor="middle"  stroke="#333" stroke-width="0.15">L1</text>
<text x="107.8" y="186.8" font-size="6.2" font-family='"Liberation Sans", sans-serif' font-weight="normal" fill="#333" text-anchor="middle"  stroke="#333" stroke-width="0.15">L2</text>
<polygon points="131.60,173.00 132.74,173.00 94.79,206.64 91.00,206.50" fill="#7a2ca8" />
<polygon points="132.74,173.00 133.89,173.00 98.57,206.79 94.79,206.64" fill="#2060c8" />
<polygon points="133.89,173.00 135.03,173.00 102.36,206.93 98.57,206.79" fill="#10a8e0" />
<polygon points="135.03,173.00 136.17,173.00 106.14,207.07 102.36,206.93" fill="#40b830" />
<polygon points="136.17,173.00 137.31,173.00 109.93,207.21 106.14,207.07" fill="#f8e020" />
<polygon points="137.31,173.00 138.46,173.00 113.71,207.36 109.93,207.21" fill="#ff9010" />
<polygon points="138.46,173.00 139.60,173.00 117.50,207.50 113.71,207.36" fill="#ff3010" />
<polygon points="92.00,206.20 92.00,207.60 137.40,208.39 137.40,207.20" fill="#7a2ca8" />
<polygon points="137.40,207.20 137.40,208.39 176.60,211.20 176.60,210.80" fill="#7a2ca8" />
<polygon points="92.00,207.60 92.00,209.00 137.40,209.57 137.40,208.39" fill="#2060c8" />
<polygon points="137.40,208.39 137.40,209.57 176.60,211.20 176.60,210.80" fill="#2060c8" />
<polygon points="92.00,209.00 92.00,210.40 137.40,210.76 137.40,209.57" fill="#10a8e0" />
<polygon points="137.40,209.57 137.40,210.76 176.60,211.20 176.60,210.80" fill="#10a8e0" />
<polygon points="92.00,210.40 92.00,211.80 137.40,211.94 137.40,210.76" fill="#40b830" />
<polygon points="137.40,210.76 137.40,211.94 176.60,211.20 176.60,210.80" fill="#40b830" />
<polygon points="92.00,211.80 92.00,213.20 137.40,213.13 137.40,211.94" fill="#f8e020" />
<polygon points="137.40,211.94 137.40,213.13 176.60,211.20 176.60,210.80" fill="#f8e020" />
<polygon points="92.00,213.20 92.00,214.60 137.40,214.31 137.40,213.13" fill="#ff9010" />
<polygon points="137.40,213.13 137.40,214.31 176.60,211.20 176.60,210.80" fill="#ff9010" />
<polygon points="92.00,214.60 92.00,216.00 137.40,215.50 137.40,214.31" fill="#ff3010" />
<polygon points="137.40,214.31 137.40,215.50 176.60,211.20 176.60,210.80" fill="#ff3010" />
<polygon points="176.60,210.80 176.60,210.86 231.46,211.07 227.60,209.70" fill="#ff3010" />
<polygon points="176.60,210.86 176.60,210.91 235.31,212.42 231.46,211.06" fill="#ff9010" />
<polygon points="176.60,210.91 176.60,210.97 239.17,213.78 235.31,212.41" fill="#f8e020" />
<polygon points="176.60,210.97 176.60,211.03 243.03,215.14 239.17,213.77" fill="#40b830" />
<polygon points="176.60,211.03 176.60,211.09 246.89,216.50 243.03,215.13" fill="#10a8e0" />
<polygon points="176.60,211.09 176.60,211.14 250.74,217.85 246.89,216.49" fill="#2060c8" />
<polygon points="176.60,211.14 176.60,211.20 254.60,219.21 250.74,217.84" fill="#7a2ca8" />
<rect x="-15.5" y="-2.7" width="31" height="5.4" rx="0.5" fill="url(#gold)" transform="translate(140.8,172.2) rotate(27.4)"/>
<rect x="-16" y="-2.8" width="32" height="5.6" rx="0.5" fill="url(#gold)" transform="translate(99.9,214) rotate(23.2)"/>
<text x="134.8" y="189.3" font-size="8.5" font-family='"Liberation Sans", sans-serif' font-weight="bold" fill="#111" text-anchor="start" textLength="24.6" lengthAdjust="spacingAndGlyphs"  stroke="#111" stroke-width="0.15">grating</text>
<text x="88.8" y="230.7" font-size="8.5" font-family='"Liberation Sans", sans-serif' font-weight="bold" fill="#111" text-anchor="start" textLength="24.6" lengthAdjust="spacingAndGlyphs"  stroke="#111" stroke-width="0.15">grating</text>
<path d="M137.4,197 Q133,210.5 137.4,224 Q141.8,210.5 137.4,197 z" fill="#cfcfcf" stroke="#bbb" stroke-width="0.4" opacity="0.85"/>
<line x1="131" y1="229.7" x2="147" y2="229.7" stroke="#444" stroke-width="0.7" marker-start="url(#ah)" marker-end="url(#ah)"/>
<text x="124.5" y="238.7" font-size="8.5" font-family='"Liberation Sans", sans-serif' font-weight="bold" fill="#111" text-anchor="start" textLength="29.5" lengthAdjust="spacingAndGlyphs"  stroke="#111" stroke-width="0.15">f=100cm</text>
<polygon points="223.50,188.10 255.50,204.50 255.50,244.30 224.40,227.90" fill="url(#scr)" />
<polygon points="223.50,210.50 223.50,211.43 231.46,211.06 227.60,209.70" fill="#ff3010" />
<polygon points="223.50,211.43 223.50,212.36 235.31,212.41 231.46,211.06" fill="#ff9010" />
<polygon points="223.50,212.36 223.50,213.29 239.17,213.77 235.31,212.41" fill="#f8e020" />
<polygon points="223.50,213.29 223.50,214.21 243.03,215.13 239.17,213.77" fill="#40b830" />
<polygon points="223.50,214.21 223.50,215.14 246.89,216.49 243.03,215.13" fill="#10a8e0" />
<polygon points="223.50,215.14 223.50,216.07 250.74,217.84 246.89,216.49" fill="#2060c8" />
<polygon points="223.50,216.07 223.50,217.00 254.60,219.20 250.74,217.84" fill="#7a2ca8" />
<text x="223.5" y="245.1" font-size="8.5" font-family='"Liberation Sans", sans-serif' font-weight="bold" fill="#111" text-anchor="start" textLength="23" lengthAdjust="spacingAndGlyphs"  stroke="#111" stroke-width="0.15">screen</text>
<text x="166" y="222.5" font-size="8.5" font-family='"Liberation Sans", sans-serif' font-weight="bold" fill="#111" text-anchor="start" textLength="27" lengthAdjust="spacingAndGlyphs"  stroke="#111" stroke-width="0.15">filament</text>
<path d="M178.5,189.7 Q180,196 182,199 Q189,199.5 189.5,200.9 Q189,202.3 182,202.8 Q180,205.8 178.5,210.2 Q177,205.8 175,202.8 Q168,202.3 167.5,200.9 Q168,199.5 175,199 Q177,196 178.5,189.7 z" fill="#c4c4c4" stroke="none" stroke-width="1" />
<text x="191.4" y="202.8" font-size="8.5" font-family='"Liberation Sans", sans-serif' font-weight="bold" fill="#111" text-anchor="start" textLength="27" lengthAdjust="spacingAndGlyphs"  stroke="#111" stroke-width="0.15">f=6.7cm</text>
<rect x="176.1" y="183.2" width="2.7" height="6.2" fill="#1f86c8" stroke="#225" stroke-width="0.5"/>
<path d="M177.4,183.2 C177,176 184,176 192,177 C202,178 208,175 208.1,166.8" fill="none" stroke="#444" stroke-width="0.85" />
<rect x="168" y="135.2" width="58.6" height="30" rx="5" fill="#a3a3a3" stroke="#8a8a8a" stroke-width="0.5"/>
<rect x="197.5" y="165" width="18.8" height="1.8" fill="#7a7a7a"/>
<rect x="157.4" y="142.8" width="11.4" height="13.1" fill="#14a0e6"/>
<text x="150.8" y="139.8" font-size="8" font-family='"Liberation Sans", sans-serif' font-weight="bold" fill="#111" text-anchor="start" textLength="17.2" lengthAdjust="spacingAndGlyphs"  stroke="#111" stroke-width="0.15">ICCD</text>
<text x="174.5" y="152.1" font-size="8.3" font-family='"Liberation Sans", sans-serif' font-weight="bold" fill="#111" text-anchor="start" textLength="46.7" lengthAdjust="spacingAndGlyphs"  stroke="#111" stroke-width="0.15">spectrometer</text>
<text x="21.8" y="197" font-size="7.4" font-family='"Liberation Serif", serif' font-weight="bold" fill="#1a1a1a" text-anchor="start" textLength="59.2" lengthAdjust="spacingAndGlyphs"  stroke="#1a1a1a" stroke-width="0.12">L1: cylindrical convex</text>
<text x="32.6" y="204.6" font-size="7.4" font-family='"Liberation Serif", serif' font-weight="bold" fill="#1a1a1a" text-anchor="start" textLength="43.3" lengthAdjust="spacingAndGlyphs"  stroke="#1a1a1a" stroke-width="0.12">lens (f=300 mm)</text>
<text x="21.8" y="216.1" font-size="7.4" font-family='"Liberation Serif", serif' font-weight="bold" fill="#1a1a1a" text-anchor="start" textLength="62.4" lengthAdjust="spacingAndGlyphs"  stroke="#1a1a1a" stroke-width="0.12">L2: cylindrical concave</text>
<text x="32.6" y="224.4" font-size="7.4" font-family='"Liberation Serif", serif' font-weight="bold" fill="#1a1a1a" text-anchor="start" textLength="40.8" lengthAdjust="spacingAndGlyphs"  stroke="#1a1a1a" stroke-width="0.12">lens (f=-50mm)</text>
<text x="271.5" y="141.3" font-size="9.8" font-family='"Liberation Sans", sans-serif' font-weight="normal" fill="#222" text-anchor="start"  stroke="#222" stroke-width="0.1">d</text>
<defs>
<linearGradient id="hotbar" x1="0" y1="1" x2="0" y2="0">
<stop offset="0" stop-color="#000000"/><stop offset="0.37" stop-color="#ff0000"/><stop offset="0.75" stop-color="#ffff00"/><stop offset="1" stop-color="#ffffff"/></linearGradient>
<radialGradient id="hot1" cx="0.5" cy="0.5" r="0.5"><stop offset="0.000" stop-color="#ffffff"/><stop offset="0.050" stop-color="#fffff7"/><stop offset="0.100" stop-color="#ffffe0"/><stop offset="0.150" stop-color="#ffffbb"/><stop offset="0.200" stop-color="#ffff8a"/><stop offset="0.250" stop-color="#ffff4e"/><stop offset="0.300" stop-color="#ffff0a"/><stop offset="0.350" stop-color="#ffd500"/><stop offset="0.400" stop-color="#ffa200"/><stop offset="0.450" stop-color="#ff7000"/><stop offset="0.500" stop-color="#ff3e00"/><stop offset="0.550" stop-color="#ff0f00"/><stop offset="0.600" stop-color="#e30000"/><stop offset="0.650" stop-color="#bb0000"/><stop offset="0.700" stop-color="#980000"/><stop offset="0.750" stop-color="#7a0000"/><stop offset="0.800" stop-color="#600000"/><stop offset="0.850" stop-color="#4b0000"/><stop offset="0.900" stop-color="#390000"/><stop offset="0.950" stop-color="#2b0000"/><stop offset="1.000" stop-color="#200000"/></radialGradient>
<linearGradient id="hot2" gradientUnits="userSpaceOnUse" x1="446.1" y1="166.9" x2="506.6" y2="215.8">
<stop offset="0" stop-color="#300000"/><stop offset="0.12" stop-color="#b00000"/><stop offset="0.3" stop-color="#ff5000"/><stop offset="0.5" stop-color="#ffd070"/><stop offset="0.68" stop-color="#ff8000"/><stop offset="0.85" stop-color="#c00000"/><stop offset="1" stop-color="#300000"/></linearGradient>
</defs>
<rect x="295.5" y="150" width="89.30000000000001" height="79.6" fill="#000"/>
<rect x="390.2" y="149.6" width="6.600000000000023" height="80.3" fill="url(#hotbar)" stroke="#666" stroke-width="0.5"/>
<text x="287.4" y="145.1" font-size="8.1" font-family='"Liberation Sans", sans-serif' font-weight="normal" fill="#222" text-anchor="start" textLength="106.6" lengthAdjust="spacingAndGlyphs"  stroke="#222" stroke-width="0.15">spectral distribution after grating pair</text>
<text x="294.3" y="152.8" font-size="6.5" font-family='"Liberation Sans", sans-serif' font-weight="normal" fill="#222" text-anchor="end"  stroke="#222" stroke-width="0.15">30</text>
<text x="294.3" y="166.20000000000002" font-size="6.5" font-family='"Liberation Sans", sans-serif' font-weight="normal" fill="#222" text-anchor="end"  stroke="#222" stroke-width="0.15">20</text>
<text x="294.3" y="179.3" font-size="6.5" font-family='"Liberation Sans", sans-serif' font-weight="normal" fill="#222" text-anchor="end"  stroke="#222" stroke-width="0.15">10</text>
<text x="294.3" y="192.9" font-size="6.5" font-family='"Liberation Sans", sans-serif' font-weight="normal" fill="#222" text-anchor="end"  stroke="#222" stroke-width="0.15">0</text>
<text x="294.3" y="206.0" font-size="6.5" font-family='"Liberation Sans", sans-serif' font-weight="normal" fill="#222" text-anchor="end"  stroke="#222" stroke-width="0.15">-10</text>
<text x="294.3" y="219.60000000000002" font-size="6.5" font-family='"Liberation Sans", sans-serif' font-weight="normal" fill="#222" text-anchor="end"  stroke="#222" stroke-width="0.15">-20</text>
<text x="294.3" y="231.4" font-size="6.5" font-family='"Liberation Sans", sans-serif' font-weight="normal" fill="#222" text-anchor="end"  stroke="#222" stroke-width="0.15">-30</text>
<text x="295.1" y="238.3" font-size="6.5" font-family='"Liberation Sans", sans-serif' font-weight="normal" fill="#222" text-anchor="middle"  stroke="#222" stroke-width="0.15">760</text>
<text x="315.20000000000005" y="238.3" font-size="6.5" font-family='"Liberation Sans", sans-serif' font-weight="normal" fill="#222" text-anchor="middle"  stroke="#222" stroke-width="0.15">780</text>
<text x="335.3" y="238.3" font-size="6.5" font-family='"Liberation Sans", sans-serif' font-weight="normal" fill="#222" text-anchor="middle"  stroke="#222" stroke-width="0.15">800</text>
<text x="355.40000000000003" y="238.3" font-size="6.5" font-family='"Liberation Sans", sans-serif' font-weight="normal" fill="#222" text-anchor="middle"  stroke="#222" stroke-width="0.15">820</text>
<text x="375.5" y="238.3" font-size="6.5" font-family='"Liberation Sans", sans-serif' font-weight="normal" fill="#222" text-anchor="middle"  stroke="#222" stroke-width="0.15">840</text>
<text x="339.5" y="244" font-size="8" font-family='"Liberation Sans", sans-serif' font-weight="normal" fill="#222" text-anchor="middle" textLength="49" lengthAdjust="spacingAndGlyphs"  stroke="#222" stroke-width="0.15">wavelength (nm)</text>
<text x="398.6" y="168.60000000000002" font-size="6.5" font-family='"Liberation Sans", sans-serif' font-weight="normal" fill="#222" text-anchor="start"  stroke="#222" stroke-width="0.15">0.8</text>
<text x="398.6" y="184.8" font-size="6.5" font-family='"Liberation Sans", sans-serif' font-weight="normal" fill="#222" text-anchor="start"  stroke="#222" stroke-width="0.15">0.6</text>
<text x="398.6" y="201.10000000000002" font-size="6.5" font-family='"Liberation Sans", sans-serif' font-weight="normal" fill="#222" text-anchor="start"  stroke="#222" stroke-width="0.15">0.4</text>
<text x="398.6" y="216.70000000000002" font-size="6.5" font-family='"Liberation Sans", sans-serif' font-weight="normal" fill="#222" text-anchor="start"  stroke="#222" stroke-width="0.15">0.2</text>
<text x="398.6" y="232.20000000000002" font-size="6.5" font-family='"Liberation Sans", sans-serif' font-weight="normal" fill="#222" text-anchor="start"  stroke="#222" stroke-width="0.15">0</text>
<text transform="translate(279.7,190.6) rotate(-90)" font-size="7.3" font-family='"Liberation Sans", sans-serif' fill="#222" stroke="#222" stroke-width="0.18" text-anchor="middle" textLength="70.4" lengthAdjust="spacingAndGlyphs">horizontal direction (mm)</text>
<rect x="434.5" y="150" width="89.29999999999995" height="79.6" fill="#000"/>
<rect x="529.2" y="149.6" width="7.0" height="80.3" fill="url(#hotbar)" stroke="#666" stroke-width="0.5"/>
<text x="426.2" y="145.1" font-size="8.1" font-family='"Liberation Sans", sans-serif' font-weight="normal" fill="#222" text-anchor="start" textLength="108.4" lengthAdjust="spacingAndGlyphs"  stroke="#222" stroke-width="0.15">spectral distribution after grating pair</text>
<text x="433.3" y="152.8" font-size="6.5" font-family='"Liberation Sans", sans-serif' font-weight="normal" fill="#222" text-anchor="end"  stroke="#222" stroke-width="0.15">30</text>
<text x="433.3" y="166.20000000000002" font-size="6.5" font-family='"Liberation Sans", sans-serif' font-weight="normal" fill="#222" text-anchor="end"  stroke="#222" stroke-width="0.15">20</text>
<text x="433.3" y="179.3" font-size="6.5" font-family='"Liberation Sans", sans-serif' font-weight="normal" fill="#222" text-anchor="end"  stroke="#222" stroke-width="0.15">10</text>
<text x="433.3" y="192.9" font-size="6.5" font-family='"Liberation Sans", sans-serif' font-weight="normal" fill="#222" text-anchor="end"  stroke="#222" stroke-width="0.15">0</text>
<text x="433.3" y="206.0" font-size="6.5" font-family='"Liberation Sans", sans-serif' font-weight="normal" fill="#222" text-anchor="end"  stroke="#222" stroke-width="0.15">-10</text>
<text x="433.3" y="219.60000000000002" font-size="6.5" font-family='"Liberation Sans", sans-serif' font-weight="normal" fill="#222" text-anchor="end"  stroke="#222" stroke-width="0.15">-20</text>
<text x="433.3" y="231.4" font-size="6.5" font-family='"Liberation Sans", sans-serif' font-weight="normal" fill="#222" text-anchor="end"  stroke="#222" stroke-width="0.15">-30</text>
<text x="434.1" y="238.3" font-size="6.5" font-family='"Liberation Sans", sans-serif' font-weight="normal" fill="#222" text-anchor="middle"  stroke="#222" stroke-width="0.15">760</text>
<text x="454.20000000000005" y="238.3" font-size="6.5" font-family='"Liberation Sans", sans-serif' font-weight="normal" fill="#222" text-anchor="middle"  stroke="#222" stroke-width="0.15">780</text>
<text x="474.3" y="238.3" font-size="6.5" font-family='"Liberation Sans", sans-serif' font-weight="normal" fill="#222" text-anchor="middle"  stroke="#222" stroke-width="0.15">800</text>
<text x="494.40000000000003" y="238.3" font-size="6.5" font-family='"Liberation Sans", sans-serif' font-weight="normal" fill="#222" text-anchor="middle"  stroke="#222" stroke-width="0.15">820</text>
<text x="514.5" y="238.3" font-size="6.5" font-family='"Liberation Sans", sans-serif' font-weight="normal" fill="#222" text-anchor="middle"  stroke="#222" stroke-width="0.15">840</text>
<text x="478.6" y="244" font-size="8" font-family='"Liberation Sans", sans-serif' font-weight="normal" fill="#222" text-anchor="middle" textLength="44.5" lengthAdjust="spacingAndGlyphs"  stroke="#222" stroke-width="0.15">wavelength (nm)</text>
<text x="538.0" y="168.60000000000002" font-size="6.5" font-family='"Liberation Sans", sans-serif' font-weight="normal" fill="#222" text-anchor="start"  stroke="#222" stroke-width="0.15">0.8</text>
<text x="538.0" y="184.8" font-size="6.5" font-family='"Liberation Sans", sans-serif' font-weight="normal" fill="#222" text-anchor="start"  stroke="#222" stroke-width="0.15">0.6</text>
<text x="538.0" y="201.10000000000002" font-size="6.5" font-family='"Liberation Sans", sans-serif' font-weight="normal" fill="#222" text-anchor="start"  stroke="#222" stroke-width="0.15">0.4</text>
<text x="538.0" y="216.70000000000002" font-size="6.5" font-family='"Liberation Sans", sans-serif' font-weight="normal" fill="#222" text-anchor="start"  stroke="#222" stroke-width="0.15">0.2</text>
<text x="538.0" y="232.20000000000002" font-size="6.5" font-family='"Liberation Sans", sans-serif' font-weight="normal" fill="#222" text-anchor="start"  stroke="#222" stroke-width="0.15">0</text>
<text transform="translate(420.0,190.6) rotate(-90)" font-size="7.3" font-family='"Liberation Sans", sans-serif' fill="#222" stroke="#222" stroke-width="0.18" text-anchor="middle" textLength="70.4" lengthAdjust="spacingAndGlyphs">horizontal direction (mm)</text>
<clipPath id="cd1"><rect x="295.5" y="150" width="89.3" height="79.6"/></clipPath>
<g clip-path="url(#cd1)"><ellipse cx="337.3" cy="191" rx="44" ry="7.2" fill="url(#hot1)" transform="rotate(41 337 191)"/></g>
<line x1="446.1" y1="166.9" x2="506.6" y2="215.8" stroke="url(#hot2)" stroke-width="1.5" stroke-linecap="round"/>
<text x="6.9" y="248.9" font-size="9.8" font-family='"Liberation Sans", sans-serif' font-weight="normal" fill="#222" text-anchor="start"  stroke="#222" stroke-width="0.1">e</text>
<rect x="20.4" y="257.9" width="25.5" height="11.9" fill="#6b6262"/>
<text x="23.5" y="266.2" font-size="6.6" font-family='"Liberation Sans", sans-serif' font-weight="bold" fill="#ececec" text-anchor="start" textLength="20" lengthAdjust="spacingAndGlyphs" >DG 535</text>
<rect x="56.6" y="254.9" width="41.2" height="16.7" fill="#ebebeb" stroke="#d0d0d0" stroke-width="0.6"/>
<text x="59.8" y="266.7" font-size="8.8" font-family='"Liberation Sans", sans-serif' font-weight="bold" fill="#f57a22" text-anchor="start" textLength="9.3" lengthAdjust="spacingAndGlyphs" >CO</text>
<text x="69.3" y="268.4" font-size="5.5" font-family='"Liberation Sans", sans-serif' font-weight="bold" fill="#f57a22" text-anchor="start" textLength="3" lengthAdjust="spacingAndGlyphs" >2</text>
<text x="74.5" y="266.7" font-size="8.8" font-family='"Liberation Sans", sans-serif' font-weight="bold" fill="#f57a22" text-anchor="start" textLength="19.3" lengthAdjust="spacingAndGlyphs" >Laser</text>
<line x1="46" y1="264.1" x2="56.6" y2="264.1" stroke="#6e6e6e" stroke-width="1" />
<line x1="33.7" y1="270" x2="33.7" y2="283.5" stroke="#6e6e6e" stroke-width="1" />
<rect x="17.3" y="283.7" width="34.8" height="13.9" fill="#6b6262"/>
<text x="20.4" y="289.1" font-size="6.6" font-family='"Liberation Sans", sans-serif' font-weight="bold" fill="#e4e4e4" text-anchor="start" textLength="28.6" lengthAdjust="spacingAndGlyphs" >Frequency</text>
<text x="25" y="295.7" font-size="6.6" font-family='"Liberation Sans", sans-serif' font-weight="bold" fill="#e4e4e4" text-anchor="start" textLength="19.4" lengthAdjust="spacingAndGlyphs" >Divider</text>
<line x1="52.1" y1="290.1" x2="57.5" y2="290.1" stroke="#6e6e6e" stroke-width="1" />
<rect x="57" y="281.4" width="43.9" height="16.4" fill="#a9a9a9"/>
<text x="61" y="288.3" font-size="7.6" font-family='"Liberation Sans", sans-serif' font-weight="bold" fill="#f01c24" text-anchor="start" textLength="35" lengthAdjust="spacingAndGlyphs" >Ti:sapphire</text>
<text x="70.6" y="295" font-size="7.6" font-family='"Liberation Sans", sans-serif' font-weight="bold" fill="#f01c24" text-anchor="start" textLength="16.3" lengthAdjust="spacingAndGlyphs" >Laser</text>
<line x1="97.8" y1="263.3" x2="117" y2="263.3" stroke="#f9a05c" stroke-width="2" />
<line x1="116.8" y1="263.3" x2="127" y2="263.3" stroke="#f53535" stroke-width="2.1" />
<line x1="115.9" y1="263.3" x2="115.9" y2="291.1" stroke="#f53535" stroke-width="2" />
<line x1="100.9" y1="291.1" x2="116.8" y2="291.1" stroke="#f53535" stroke-width="2" />
<line x1="113.4" y1="266" x2="120.7" y2="258" stroke="#c8b070" stroke-width="1" />
<line x1="112.9" y1="294.7" x2="121" y2="286.9" stroke="#7a5520" stroke-width="2.4" />
<rect x="127" y="256.1" width="29.7" height="15.4" fill="#1a7ac2"/>
<text x="141.85" y="262.5" font-size="6.4" font-family='"Liberation Sans", sans-serif' font-weight="bold" fill="#eef4ff" text-anchor="middle" textLength="15.5" lengthAdjust="spacingAndGlyphs" >Beam</text>
<text x="141.85" y="269.8" font-size="6.4" font-family='"Liberation Sans", sans-serif' font-weight="bold" fill="#eef4ff" text-anchor="middle" textLength="26.5" lengthAdjust="spacingAndGlyphs" >Expander</text>
<line x1="156.7" y1="262.8" x2="205.5" y2="262.8" stroke="#f53535" stroke-width="2.1" />
<line x1="205.5" y1="263" x2="84.7" y2="314.7" stroke="#f8503a" stroke-width="2.5" />
<circle cx="84.7" cy="314.7" r="1.2" fill="#f8503a"/>
<polygon points="121.71,300.35 122.22,302.02 122.10,303.86 121.53,305.76 120.11,307.56 118.57,309.32 116.05,310.26 114.04,311.62 111.69,312.75 109.23,312.89 106.78,313.05 105.10,311.98 103.10,311.42 101.95,310.12 100.77,308.81 100.36,307.14 101.12,305.29 101.59,303.52 102.69,301.77 103.83,299.88 105.98,298.51 108.45,297.79 110.72,296.56 113.07,296.73 115.50,296.38 117.31,297.21 118.92,298.10 121.04,298.73" fill="#aad9f6" />
<polygon points="119.40,301.29 120.83,302.22 119.33,303.85 119.59,305.25 117.75,306.48 116.64,307.78 115.60,309.47 113.26,309.70 111.40,310.77 109.43,310.91 107.55,310.92 105.82,310.67 104.75,309.77 102.81,309.47 103.21,307.83 102.74,306.69 103.24,305.34 103.44,304.00 104.24,302.60 105.09,301.03 107.25,300.23 109.18,299.60 111.01,298.84 113.14,297.68 114.59,298.72 116.70,298.39 117.88,299.25 119.35,299.87" fill="#f7de8c" />
<path d="M203.8,256.1 Q209,263.5 207.8,272" fill="none" stroke="#8fc8ec" stroke-width="0.9" />
<ellipse cx="186.2" cy="297.8" rx="1.6" ry="7.2" fill="#8cc8f0"/>
<rect x="128.1" y="305.3" width="37.8" height="20.8" fill="#000"/>
<ellipse cx="146.5" cy="315.8" rx="5" ry="1.3" fill="#e8d0e8"/>
<ellipse cx="149.8" cy="315.7" rx="2.2" ry="1.7" fill="#ffffff"/>
<polygon points="193.90,305.10 207.80,319.00 253.50,319.00 253.50,320.50 207.00,320.50 193.00,305.80" fill="#4a5a70" />
<polygon points="194.70,285.00 238.00,285.00 251.80,299.40 207.80,299.40" fill="#7b7b7b" />
<polygon points="194.70,285.00 207.80,299.40 207.80,318.50 193.90,305.10" fill="#8c8c8c" />
<polygon points="207.80,299.40 251.80,299.40 251.80,318.50 207.80,318.50" fill="#a2a2a2" />
<polygon points="195.50,291.50 202.00,298.50 202.00,305.00 195.50,298.00" fill="#111" />
<line x1="197.8" y1="293.5" x2="197.8" y2="301" stroke="#2a8ad0" stroke-width="1" />
<text x="208.6" y="309.2" font-size="8.2" font-family='"Liberation Serif", serif' font-weight="bold" fill="#111" text-anchor="start" textLength="43.2" lengthAdjust="spacingAndGlyphs"  stroke="#111" stroke-width="0.15">spectrometer</text>
<text x="268" y="257.4" font-size="9.8" font-family='"Liberation Sans", sans-serif' font-weight="normal" fill="#222" text-anchor="start"  stroke="#222" stroke-width="0.25">f</text>
<rect x="290" y="261.5" width="118" height="47.10000000000002" fill="none" stroke="#8a8a8a" stroke-width="0.8"/>
<text x="302.0754039497307" y="316.6" font-size="7" font-family='"Liberation Sans", sans-serif' font-weight="normal" fill="#222" text-anchor="middle"  stroke="#222" stroke-width="0.15">20</text>
<line x1="302.0754039497307" y1="308.6" x2="302.0754039497307" y2="307.40000000000003" stroke="#777" stroke-width="0.5" />
<line x1="302.0754039497307" y1="261.5" x2="302.0754039497307" y2="262.7" stroke="#777" stroke-width="0.5" />
<text x="323.26032315978455" y="316.6" font-size="7" font-family='"Liberation Sans", sans-serif' font-weight="normal" fill="#222" text-anchor="middle"  stroke="#222" stroke-width="0.15">21</text>
<line x1="323.26032315978455" y1="308.6" x2="323.26032315978455" y2="307.40000000000003" stroke="#777" stroke-width="0.5" />
<line x1="323.26032315978455" y1="261.5" x2="323.26032315978455" y2="262.7" stroke="#777" stroke-width="0.5" />
<text x="344.4452423698384" y="316.6" font-size="7" font-family='"Liberation Sans", sans-serif' font-weight="normal" fill="#222" text-anchor="middle"  stroke="#222" stroke-width="0.15">22</text>
<line x1="344.4452423698384" y1="308.6" x2="344.4452423698384" y2="307.40000000000003" stroke="#777" stroke-width="0.5" />
<line x1="344.4452423698384" y1="261.5" x2="344.4452423698384" y2="262.7" stroke="#777" stroke-width="0.5" />
<text x="365.6301615798923" y="316.6" font-size="7" font-family='"Liberation Sans", sans-serif' font-weight="normal" fill="#222" text-anchor="middle"  stroke="#222" stroke-width="0.15">23</text>
<line x1="365.6301615798923" y1="308.6" x2="365.6301615798923" y2="307.40000000000003" stroke="#777" stroke-width="0.5" />
<line x1="365.6301615798923" y1="261.5" x2="365.6301615798923" y2="262.7" stroke="#777" stroke-width="0.5" />
<text x="386.81508078994614" y="316.6" font-size="7" font-family='"Liberation Sans", sans-serif' font-weight="normal" fill="#222" text-anchor="middle"  stroke="#222" stroke-width="0.15">24</text>
<line x1="386.81508078994614" y1="308.6" x2="386.81508078994614" y2="307.40000000000003" stroke="#777" stroke-width="0.5" />
<line x1="386.81508078994614" y1="261.5" x2="386.81508078994614" y2="262.7" stroke="#777" stroke-width="0.5" />
<text x="408.0" y="316.6" font-size="7" font-family='"Liberation Sans", sans-serif' font-weight="normal" fill="#222" text-anchor="middle"  stroke="#222" stroke-width="0.15">25</text>
<line x1="408.0" y1="308.6" x2="408.0" y2="307.40000000000003" stroke="#777" stroke-width="0.5" />
<line x1="408.0" y1="261.5" x2="408.0" y2="262.7" stroke="#777" stroke-width="0.5" />
<text x="288" y="311.1" font-size="7" font-family='"Liberation Sans", sans-serif' font-weight="normal" fill="#222" text-anchor="end"  stroke="#222" stroke-width="0.15">0</text>
<line x1="290" y1="308.6" x2="291.2" y2="308.6" stroke="#777" stroke-width="0.5" />
<line x1="408" y1="308.6" x2="406.8" y2="308.6" stroke="#777" stroke-width="0.5" />
<text x="288" y="287.55" font-size="7" font-family='"Liberation Sans", sans-serif' font-weight="normal" fill="#222" text-anchor="end"  stroke="#222" stroke-width="0.15">1</text>
<line x1="290" y1="285.05" x2="291.2" y2="285.05" stroke="#777" stroke-width="0.5" />
<line x1="408" y1="285.05" x2="406.8" y2="285.05" stroke="#777" stroke-width="0.5" />
<text x="288" y="264.0" font-size="7" font-family='"Liberation Sans", sans-serif' font-weight="normal" fill="#222" text-anchor="end"  stroke="#222" stroke-width="0.15">2</text>
<line x1="290" y1="261.5" x2="291.2" y2="261.5" stroke="#777" stroke-width="0.5" />
<line x1="408" y1="261.5" x2="406.8" y2="261.5" stroke="#777" stroke-width="0.5" />
<polyline points="302.08,308.60 312.67,308.60 323.26,308.60 333.85,307.42 344.45,302.48 355.04,300.36 365.63,283.87 376.22,276.81 386.82,279.16 397.41,280.34" fill="none" stroke="#2b2be6" stroke-width="1.0"/>
<rect x="300.83" y="307.35" width="2.5" height="2.5" rx="0.5" fill="#2b2be6"/>
<rect x="311.42" y="307.35" width="2.5" height="2.5" rx="0.5" fill="#2b2be6"/>
<rect x="322.01" y="307.35" width="2.5" height="2.5" rx="0.5" fill="#2b2be6"/>
<rect x="332.60" y="306.17" width="2.5" height="2.5" rx="0.5" fill="#2b2be6"/>
<line x1="344.4452423698384" y1="303.65450000000004" x2="344.4452423698384" y2="301.2995" stroke="#2b2be6" stroke-width="0.7" />
<line x1="343.1452423698384" y1="303.65450000000004" x2="345.7452423698384" y2="303.65450000000004" stroke="#2b2be6" stroke-width="0.7" />
<line x1="343.1452423698384" y1="301.2995" x2="345.7452423698384" y2="301.2995" stroke="#2b2be6" stroke-width="0.7" />
<rect x="343.20" y="301.23" width="2.5" height="2.5" rx="0.5" fill="#2b2be6"/>
<line x1="355.03770197486534" y1="303.89000000000004" x2="355.03770197486534" y2="296.82500000000005" stroke="#2b2be6" stroke-width="0.7" />
<line x1="353.73770197486533" y1="303.89000000000004" x2="356.33770197486535" y2="303.89000000000004" stroke="#2b2be6" stroke-width="0.7" />
<line x1="353.73770197486533" y1="296.82500000000005" x2="356.33770197486535" y2="296.82500000000005" stroke="#2b2be6" stroke-width="0.7" />
<rect x="353.79" y="299.11" width="2.5" height="2.5" rx="0.5" fill="#2b2be6"/>
<line x1="365.6301615798923" y1="293.7635" x2="365.6301615798923" y2="273.9815" stroke="#2b2be6" stroke-width="0.7" />
<line x1="364.33016157989226" y1="293.7635" x2="366.9301615798923" y2="293.7635" stroke="#2b2be6" stroke-width="0.7" />
<line x1="364.33016157989226" y1="273.9815" x2="366.9301615798923" y2="273.9815" stroke="#2b2be6" stroke-width="0.7" />
<rect x="364.38" y="282.62" width="2.5" height="2.5" rx="0.5" fill="#2b2be6"/>
<line x1="376.2226211849192" y1="281.5175" x2="376.2226211849192" y2="272.0975" stroke="#2b2be6" stroke-width="0.7" />
<line x1="374.9226211849192" y1="281.5175" x2="377.5226211849192" y2="281.5175" stroke="#2b2be6" stroke-width="0.7" />
<line x1="374.9226211849192" y1="272.0975" x2="377.5226211849192" y2="272.0975" stroke="#2b2be6" stroke-width="0.7" />
<rect x="374.97" y="275.56" width="2.5" height="2.5" rx="0.5" fill="#2b2be6"/>
<line x1="386.81508078994614" y1="284.3435" x2="386.81508078994614" y2="273.9815" stroke="#2b2be6" stroke-width="0.7" />
<line x1="385.5150807899461" y1="284.3435" x2="388.11508078994615" y2="284.3435" stroke="#2b2be6" stroke-width="0.7" />
<line x1="385.5150807899461" y1="273.9815" x2="388.11508078994615" y2="273.9815" stroke="#2b2be6" stroke-width="0.7" />
<rect x="385.57" y="277.91" width="2.5" height="2.5" rx="0.5" fill="#2b2be6"/>
<line x1="397.40754039497307" y1="290.702" x2="397.40754039497307" y2="269.978" stroke="#2b2be6" stroke-width="0.7" />
<line x1="396.10754039497306" y1="290.702" x2="398.7075403949731" y2="290.702" stroke="#2b2be6" stroke-width="0.7" />
<line x1="396.10754039497306" y1="269.978" x2="398.7075403949731" y2="269.978" stroke="#2b2be6" stroke-width="0.7" />
<rect x="396.16" y="279.09" width="2.5" height="2.5" rx="0.5" fill="#2b2be6"/>
<text x="307.8" y="294.1" font-size="7.4" font-family='"Liberation Sans", sans-serif' font-weight="normal" fill="#222" text-anchor="start" textLength="28.7" lengthAdjust="spacingAndGlyphs"  stroke="#222" stroke-width="0.15">threshold</text>
<line x1="322.2" y1="295.5" x2="322.2" y2="304.5" stroke="#222" stroke-width="0.6" marker-end="url(#ah)"/>
<text transform="translate(280.5,286.65000000000003) rotate(-90)" font-size="7" font-family='"Liberation Sans", sans-serif' fill="#222" stroke="#222" stroke-width="0.15" text-anchor="middle" textLength="44" lengthAdjust="spacingAndGlyphs">Intensity (arb. u.)</text>
<text x="348" y="322.8" font-size="7" font-family='"Liberation Sans", sans-serif' font-weight="normal" fill="#222" text-anchor="middle" textLength="33.5" lengthAdjust="spacingAndGlyphs"  stroke="#222" stroke-width="0.15">Voltage (kV)</text>
<rect x="428.6" y="260.9" width="117.29999999999995" height="47.700000000000045" fill="none" stroke="#8a8a8a" stroke-width="0.8"/>
<text x="435.8083798882682" y="316.6" font-size="7" font-family='"Liberation Sans", sans-serif' font-weight="normal" fill="#222" text-anchor="middle"  stroke="#222" stroke-width="0.15">16</text>
<line x1="435.8083798882682" y1="308.6" x2="435.8083798882682" y2="307.40000000000003" stroke="#777" stroke-width="0.5" />
<line x1="435.8083798882682" y1="260.9" x2="435.8083798882682" y2="262.09999999999997" stroke="#777" stroke-width="0.5" />
<text x="462.02067039106146" y="316.6" font-size="7" font-family='"Liberation Sans", sans-serif' font-weight="normal" fill="#222" text-anchor="middle"  stroke="#222" stroke-width="0.15">18</text>
<line x1="462.02067039106146" y1="308.6" x2="462.02067039106146" y2="307.40000000000003" stroke="#777" stroke-width="0.5" />
<line x1="462.02067039106146" y1="260.9" x2="462.02067039106146" y2="262.09999999999997" stroke="#777" stroke-width="0.5" />
<text x="488.23296089385474" y="316.6" font-size="7" font-family='"Liberation Sans", sans-serif' font-weight="normal" fill="#222" text-anchor="middle"  stroke="#222" stroke-width="0.15">20</text>
<line x1="488.23296089385474" y1="308.6" x2="488.23296089385474" y2="307.40000000000003" stroke="#777" stroke-width="0.5" />
<line x1="488.23296089385474" y1="260.9" x2="488.23296089385474" y2="262.09999999999997" stroke="#777" stroke-width="0.5" />
<text x="514.445251396648" y="316.6" font-size="7" font-family='"Liberation Sans", sans-serif' font-weight="normal" fill="#222" text-anchor="middle"  stroke="#222" stroke-width="0.15">22</text>
<line x1="514.445251396648" y1="308.6" x2="514.445251396648" y2="307.40000000000003" stroke="#777" stroke-width="0.5" />
<line x1="514.445251396648" y1="260.9" x2="514.445251396648" y2="262.09999999999997" stroke="#777" stroke-width="0.5" />
<text x="540.6575418994413" y="316.6" font-size="7" font-family='"Liberation Sans", sans-serif' font-weight="normal" fill="#222" text-anchor="middle"  stroke="#222" stroke-width="0.15">24</text>
<line x1="540.6575418994413" y1="308.6" x2="540.6575418994413" y2="307.40000000000003" stroke="#777" stroke-width="0.5" />
<line x1="540.6575418994413" y1="260.9" x2="540.6575418994413" y2="262.09999999999997" stroke="#777" stroke-width="0.5" />
<text x="426.6" y="311.1" font-size="7" font-family='"Liberation Sans", sans-serif' font-weight="normal" fill="#222" text-anchor="end"  stroke="#222" stroke-width="0.15">0</text>
<line x1="428.6" y1="308.6" x2="429.8" y2="308.6" stroke="#777" stroke-width="0.5" />
<line x1="545.9" y1="308.6" x2="544.6999999999999" y2="308.6" stroke="#777" stroke-width="0.5" />
<text x="426.6" y="287.25" font-size="7" font-family='"Liberation Sans", sans-serif' font-weight="normal" fill="#222" text-anchor="end"  stroke="#222" stroke-width="0.15">2</text>
<line x1="428.6" y1="284.75" x2="429.8" y2="284.75" stroke="#777" stroke-width="0.5" />
<line x1="545.9" y1="284.75" x2="544.6999999999999" y2="284.75" stroke="#777" stroke-width="0.5" />
<text x="426.6" y="263.4" font-size="7" font-family='"Liberation Sans", sans-serif' font-weight="normal" fill="#222" text-anchor="end"  stroke="#222" stroke-width="0.15">4</text>
<line x1="428.6" y1="260.9" x2="429.8" y2="260.9" stroke="#777" stroke-width="0.5" />
<line x1="545.9" y1="260.9" x2="544.6999999999999" y2="260.9" stroke="#777" stroke-width="0.5" />
<polyline points="435.81,307.65 442.36,307.17 448.91,303.83 455.47,303.23 462.02,304.78 468.57,301.21 475.13,300.49 481.68,296.08 488.23,295.48 494.79,293.10 501.34,293.69 507.89,291.91 514.45,290.71 521.00,285.94 527.55,279.98 534.10,271.63 540.66,269.84" fill="none" stroke="#2b2be6" stroke-width="1.0"/>
<rect x="434.56" y="306.40" width="2.5" height="2.5" rx="0.5" fill="#2b2be6"/>
<line x1="442.3614525139665" y1="308.12300000000005" x2="442.3614525139665" y2="306.21500000000003" stroke="#2b2be6" stroke-width="0.7" />
<line x1="441.0614525139665" y1="308.12300000000005" x2="443.66145251396654" y2="308.12300000000005" stroke="#2b2be6" stroke-width="0.7" />
<line x1="441.0614525139665" y1="306.21500000000003" x2="443.66145251396654" y2="306.21500000000003" stroke="#2b2be6" stroke-width="0.7" />
<rect x="441.11" y="305.92" width="2.5" height="2.5" rx="0.5" fill="#2b2be6"/>
<rect x="447.66" y="302.58" width="2.5" height="2.5" rx="0.5" fill="#2b2be6"/>
<line x1="455.46759776536317" y1="303.94925" x2="455.46759776536317" y2="302.51825" stroke="#2b2be6" stroke-width="0.7" />
<line x1="454.16759776536315" y1="303.94925" x2="456.7675977653632" y2="303.94925" stroke="#2b2be6" stroke-width="0.7" />
<line x1="454.16759776536315" y1="302.51825" x2="456.7675977653632" y2="302.51825" stroke="#2b2be6" stroke-width="0.7" />
<rect x="454.22" y="301.98" width="2.5" height="2.5" rx="0.5" fill="#2b2be6"/>
<rect x="460.77" y="303.53" width="2.5" height="2.5" rx="0.5" fill="#2b2be6"/>
<line x1="468.5737430167598" y1="302.99525" x2="468.5737430167598" y2="299.41775" stroke="#2b2be6" stroke-width="0.7" />
<line x1="467.2737430167598" y1="302.99525" x2="469.8737430167598" y2="302.99525" stroke="#2b2be6" stroke-width="0.7" />
<line x1="467.2737430167598" y1="299.41775" x2="469.8737430167598" y2="299.41775" stroke="#2b2be6" stroke-width="0.7" />
<rect x="467.32" y="299.96" width="2.5" height="2.5" rx="0.5" fill="#2b2be6"/>
<line x1="475.1268156424581" y1="302.63750000000005" x2="475.1268156424581" y2="298.34450000000004" stroke="#2b2be6" stroke-width="0.7" />
<line x1="473.8268156424581" y1="302.63750000000005" x2="476.4268156424581" y2="302.63750000000005" stroke="#2b2be6" stroke-width="0.7" />
<line x1="473.8268156424581" y1="298.34450000000004" x2="476.4268156424581" y2="298.34450000000004" stroke="#2b2be6" stroke-width="0.7" />
<rect x="473.88" y="299.24" width="2.5" height="2.5" rx="0.5" fill="#2b2be6"/>
<rect x="480.43" y="294.83" width="2.5" height="2.5" rx="0.5" fill="#2b2be6"/>
<rect x="486.98" y="294.23" width="2.5" height="2.5" rx="0.5" fill="#2b2be6"/>
<rect x="493.54" y="291.85" width="2.5" height="2.5" rx="0.5" fill="#2b2be6"/>
<rect x="500.09" y="292.44" width="2.5" height="2.5" rx="0.5" fill="#2b2be6"/>
<rect x="506.64" y="290.66" width="2.5" height="2.5" rx="0.5" fill="#2b2be6"/>
<rect x="513.20" y="289.46" width="2.5" height="2.5" rx="0.5" fill="#2b2be6"/>
<rect x="519.75" y="284.69" width="2.5" height="2.5" rx="0.5" fill="#2b2be6"/>
<rect x="526.30" y="278.73" width="2.5" height="2.5" rx="0.5" fill="#2b2be6"/>
<rect x="532.85" y="270.38" width="2.5" height="2.5" rx="0.5" fill="#2b2be6"/>
<rect x="539.41" y="268.59" width="2.5" height="2.5" rx="0.5" fill="#2b2be6"/>
<text x="429.6" y="293.2" font-size="7.4" font-family='"Liberation Sans", sans-serif' font-weight="normal" fill="#222" text-anchor="start" textLength="28.4" lengthAdjust="spacingAndGlyphs"  stroke="#222" stroke-width="0.15">threshold</text>
<line x1="442.3" y1="296.2" x2="440.6" y2="305.5" stroke="#222" stroke-width="0.6" marker-end="url(#ah)"/>
<text transform="translate(419.8,286.35) rotate(-90)" font-size="7" font-family='"Liberation Sans", sans-serif' fill="#222" stroke="#222" stroke-width="0.15" text-anchor="middle" textLength="44" lengthAdjust="spacingAndGlyphs">Intensity (arb. u.)</text>
<text x="486.4" y="322.8" font-size="7" font-family='"Liberation Sans", sans-serif' font-weight="normal" fill="#222" text-anchor="middle" textLength="33.5" lengthAdjust="spacingAndGlyphs"  stroke="#222" stroke-width="0.15">Voltage (kV)</text></svg></body></html>
